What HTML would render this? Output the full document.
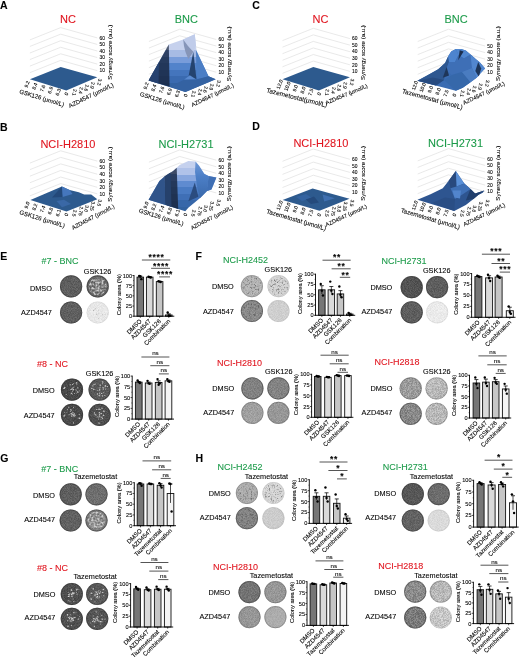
<!DOCTYPE html>
<html><head><meta charset="utf-8"><title>Figure</title>
<style>html,body{margin:0;padding:0;background:#fff;}svg{display:block;}text{stroke:currentColor;stroke-width:0.09px;paint-order:stroke;}</style></head>
<body><svg width="520" height="660" viewBox="0 0 520 660" font-family='"Liberation Sans", sans-serif'>
<defs><linearGradient id="gfront" x1="0" y1="0" x2="0" y2="1"><stop offset="0" stop-color="#c6d2ee"/><stop offset="0.15" stop-color="#a6bbe4"/><stop offset="0.3" stop-color="#6f97d6"/><stop offset="0.5" stop-color="#4a7bc2"/><stop offset="0.75" stop-color="#3a68ab"/><stop offset="1" stop-color="#2d5892"/></linearGradient><linearGradient id="gleft" x1="0" y1="0" x2="0" y2="1"><stop offset="0" stop-color="#56607a"/><stop offset="0.3" stop-color="#2e4468"/><stop offset="1" stop-color="#1b2e4e"/></linearGradient><linearGradient id="gmid" x1="0" y1="0" x2="0" y2="1"><stop offset="0" stop-color="#6f98d8"/><stop offset="1" stop-color="#2c5690"/></linearGradient><filter id="grain" x="0" y="0" width="1" height="1" color-interpolation-filters="sRGB"><feTurbulence type="fractalNoise" baseFrequency="1.3" numOctaves="1" seed="4"/><feColorMatrix type="matrix" values="2.5 0 0 0 -0.75  2.5 0 0 0 -0.75  2.5 0 0 0 -0.75  0 0 0 0 0.11"/><feComposite in2="SourceGraphic" operator="in"/></filter><filter id="lgrain" x="0" y="0" width="1" height="1" color-interpolation-filters="sRGB"><feTurbulence type="fractalNoise" baseFrequency="1.3" numOctaves="1" seed="6"/><feColorMatrix type="matrix" values="2.5 0 0 0 -0.75  2.5 0 0 0 -0.75  2.5 0 0 0 -0.75  0 0 0 0 0.07"/><feComposite in2="SourceGraphic" operator="in"/></filter><filter id="dmottle" x="0" y="0" width="1" height="1" color-interpolation-filters="sRGB"><feTurbulence type="fractalNoise" baseFrequency="0.55" numOctaves="2" seed="13"/><feColorMatrix type="matrix" values="0 0 0 0 0.3  0 0 0 0 0.3  0 0 0 0 0.3  -3.0 0 0 0 1.45"/><feComposite in2="SourceGraphic" operator="in"/></filter><filter id="sgrain" x="0" y="0" width="1" height="1" color-interpolation-filters="sRGB"><feTurbulence type="fractalNoise" baseFrequency="1.6" numOctaves="1" seed="8"/><feColorMatrix type="matrix" values="3 0 0 0 -1  3 0 0 0 -1  3 0 0 0 -1  0 0 0 0 0.17"/><feComposite in2="SourceGraphic" operator="in"/></filter><filter id="mottle" x="0" y="0" width="1" height="1" color-interpolation-filters="sRGB"><feTurbulence type="fractalNoise" baseFrequency="0.5" numOctaves="2" seed="9"/><feColorMatrix type="matrix" values="0 0 0 0 0.8  0 0 0 0 0.8  0 0 0 0 0.8  3.6 0 0 0 -1.45"/><feComposite in2="SourceGraphic" operator="in"/></filter><linearGradient id="gfa" x1="0" y1="0" x2="0" y2="1"><stop offset="0.0" stop-color="#c6d1ed"/><stop offset="0.2756" stop-color="#c6d1ed"/><stop offset="0.2756" stop-color="#a7bbe4"/><stop offset="0.3882" stop-color="#a7bbe4"/><stop offset="0.3882" stop-color="#789cda"/><stop offset="0.5009" stop-color="#789cda"/><stop offset="0.5009" stop-color="#5283cb"/><stop offset="0.6135" stop-color="#5283cb"/><stop offset="0.6135" stop-color="#4475bd"/><stop offset="0.7262" stop-color="#4475bd"/><stop offset="0.7262" stop-color="#3a6ab0"/><stop offset="0.8388" stop-color="#3a6ab0"/><stop offset="0.8388" stop-color="#3262a2"/><stop offset="1.0" stop-color="#3262a2"/></linearGradient><linearGradient id="gla" x1="0" y1="0" x2="0" y2="1"><stop offset="0.0" stop-color="#4c5870"/><stop offset="0.1368" stop-color="#4c5870"/><stop offset="0.1368" stop-color="#2f4265"/><stop offset="0.2901" stop-color="#2f4265"/><stop offset="0.2901" stop-color="#263b5e"/><stop offset="0.4434" stop-color="#263b5e"/><stop offset="0.4434" stop-color="#22375a"/><stop offset="0.5967" stop-color="#22375a"/><stop offset="0.5967" stop-color="#203456"/><stop offset="0.75" stop-color="#203456"/><stop offset="0.75" stop-color="#1e3152"/><stop offset="0.9033" stop-color="#1e3152"/><stop offset="0.9033" stop-color="#1c2f4f"/><stop offset="1.0" stop-color="#1c2f4f"/></linearGradient><linearGradient id="gfb" x1="0" y1="0" x2="0" y2="1"><stop offset="0.0" stop-color="#c5d1ee"/><stop offset="0.1377" stop-color="#c5d1ee"/><stop offset="0.1377" stop-color="#b0c2e9"/><stop offset="0.2675" stop-color="#b0c2e9"/><stop offset="0.2675" stop-color="#87a6de"/><stop offset="0.3972" stop-color="#87a6de"/><stop offset="0.3972" stop-color="#5f8bd0"/><stop offset="0.5269" stop-color="#5f8bd0"/><stop offset="0.5269" stop-color="#4a7bc3"/><stop offset="0.6567" stop-color="#4a7bc3"/><stop offset="0.6567" stop-color="#3f6fb6"/><stop offset="0.7864" stop-color="#3f6fb6"/><stop offset="0.7864" stop-color="#3767a9"/><stop offset="0.9162" stop-color="#3767a9"/><stop offset="0.9162" stop-color="#3262a0"/><stop offset="1.0" stop-color="#3262a0"/></linearGradient><linearGradient id="grb" x1="0" y1="0" x2="0" y2="1"><stop offset="0" stop-color="#6f98d6"/><stop offset="0.4" stop-color="#4c7fc7"/><stop offset="1" stop-color="#3a69ab"/></linearGradient><linearGradient id="glb" x1="0" y1="0" x2="0" y2="1"><stop offset="0.0" stop-color="#3d4a66"/><stop offset="0.1646" stop-color="#3d4a66"/><stop offset="0.1646" stop-color="#2a3d60"/><stop offset="0.322" stop-color="#2a3d60"/><stop offset="0.322" stop-color="#24385a"/><stop offset="0.4794" stop-color="#24385a"/><stop offset="0.4794" stop-color="#213556"/><stop offset="0.6368" stop-color="#213556"/><stop offset="0.6368" stop-color="#1f3252"/><stop offset="0.7942" stop-color="#1f3252"/><stop offset="0.7942" stop-color="#1d3050"/><stop offset="0.9516" stop-color="#1d3050"/><stop offset="0.9516" stop-color="#1b2e4d"/><stop offset="1.0" stop-color="#1b2e4d"/></linearGradient></defs>
<rect width="520" height="660" fill="#fff"/>
<text x="0" y="9.2" font-size="10.5" font-weight="bold">A</text>
<text x="0" y="130.6" font-size="10.5" font-weight="bold">B</text>
<text x="252.3" y="8.9" font-size="10.5" font-weight="bold">C</text>
<text x="252.3" y="130.3" font-size="10.5" font-weight="bold">D</text>
<text x="0.3" y="259.9" font-size="10.5" font-weight="bold">E</text>
<text x="195.5" y="260.1" font-size="10.5" font-weight="bold">F</text>
<text x="0.3" y="461.9" font-size="10.5" font-weight="bold">G</text>
<text x="195.5" y="461.9" font-size="10.5" font-weight="bold">H</text>
<polyline points="29.9,72.65 60.7,60.35 97.3,70.65" fill="none" stroke="#e2e2e2" stroke-width="0.75"/>
<polyline points="29.9,66.1 60.7,53.8 97.3,64.1" fill="none" stroke="#e2e2e2" stroke-width="0.75"/>
<polyline points="29.9,59.55 60.7,47.25 97.3,57.55" fill="none" stroke="#e2e2e2" stroke-width="0.75"/>
<polyline points="29.9,53 60.7,40.7 97.3,51" fill="none" stroke="#e2e2e2" stroke-width="0.75"/>
<polyline points="29.9,46.45 60.7,34.15 97.3,44.45" fill="none" stroke="#e2e2e2" stroke-width="0.75"/>
<polyline points="29.9,39.9 60.7,27.6 97.3,37.9" fill="none" stroke="#e2e2e2" stroke-width="0.75"/>
<text x="99.5" y="72.4" font-size="4.9">10</text>
<text x="99.5" y="65.85" font-size="4.9">20</text>
<text x="99.5" y="59.3" font-size="4.9">30</text>
<text x="99.5" y="52.75" font-size="4.9">40</text>
<text x="99.5" y="46.2" font-size="4.9">50</text>
<text x="99.5" y="39.65" font-size="4.9">60</text>
<text x="112.2" y="52.2" font-size="6.1" text-anchor="middle" transform="rotate(-90 112.2 52.2)">Synergy score (a.u.)</text>
<text x="67.9" y="23.3" font-size="11" text-anchor="middle" fill="#e0141e" color="#e0141e">NC</text>
<polygon points="29.9,79.2 60.7,66.9 97.3,77.2 66.3,90.4" fill="#2d5a8e"/>
<text x="28.6" y="84.9" font-size="4.9" text-anchor="middle" transform="rotate(-70 28.6 84.9)">9.2</text>
<text x="36.4" y="86.85" font-size="4.9" text-anchor="middle" transform="rotate(-70 36.4 86.85)">8.4</text>
<text x="44.2" y="88.8" font-size="4.9" text-anchor="middle" transform="rotate(-70 44.2 88.8)">7.6</text>
<text x="52" y="90.75" font-size="4.9" text-anchor="middle" transform="rotate(-70 52 90.75)">6.9</text>
<text x="59.8" y="92.7" font-size="4.9" text-anchor="middle" transform="rotate(-70 59.8 92.7)">6.3</text>
<text x="68.1" y="94.4" font-size="4.9" text-anchor="middle" transform="rotate(-70 68.1 94.4)">0</text>
<text x="72.9" y="92.1" font-size="4.8" text-anchor="middle" transform="rotate(100 72.9 92.1)">2.1</text>
<text x="79.3" y="90.1" font-size="4.8" text-anchor="middle" transform="rotate(100 79.3 90.1)">2.4</text>
<text x="84.9" y="87.6" font-size="4.8" text-anchor="middle" transform="rotate(100 84.9 87.6)">2.6</text>
<text x="90.9" y="85.1" font-size="4.8" text-anchor="middle" transform="rotate(100 90.9 85.1)">2.9</text>
<text x="97.8" y="81.8" font-size="4.8" text-anchor="middle" transform="rotate(100 97.8 81.8)">3.2</text>
<text x="19" y="93.2" font-size="6" transform="rotate(17 19 93.2)">GSK126 (μmol/L)</text>
<text x="69.8" y="108" font-size="6" transform="rotate(-26 69.8 108)">AZD4547 (μmol/L)</text>
<polyline points="148.9,74.25 179.7,61.95 216.3,72.25" fill="none" stroke="#e2e2e2" stroke-width="0.75"/>
<polyline points="148.9,67.7 179.7,55.4 216.3,65.7" fill="none" stroke="#e2e2e2" stroke-width="0.75"/>
<polyline points="148.9,61.15 179.7,48.85 216.3,59.15" fill="none" stroke="#e2e2e2" stroke-width="0.75"/>
<polyline points="148.9,54.6 179.7,42.3 216.3,52.6" fill="none" stroke="#e2e2e2" stroke-width="0.75"/>
<polyline points="148.9,48.05 179.7,35.75 216.3,46.05" fill="none" stroke="#e2e2e2" stroke-width="0.75"/>
<polyline points="148.9,41.5 179.7,29.2 216.3,39.5" fill="none" stroke="#e2e2e2" stroke-width="0.75"/>
<text x="218.5" y="74" font-size="4.9">10</text>
<text x="218.5" y="67.45" font-size="4.9">20</text>
<text x="218.5" y="60.9" font-size="4.9">30</text>
<text x="218.5" y="54.35" font-size="4.9">40</text>
<text x="218.5" y="47.8" font-size="4.9">50</text>
<text x="218.5" y="41.25" font-size="4.9">60</text>
<text x="231.2" y="53.8" font-size="6.1" text-anchor="middle" transform="rotate(-90 231.2 53.8)">Synergy score (a.u.)</text>
<text x="186.3" y="23.3" font-size="11" text-anchor="middle" fill="#1a9a48" color="#1a9a48">BNC</text>
<polygon points="148.6,80.5 168.8,44.4 183.2,39.4 194.8,34.3 196.2,50.2 208.5,76.2 215.7,79.2 185.4,92" fill="url(#gfa)"/>
<polygon points="148.6,80.5 168.8,44.4 169.6,86.8" fill="url(#gla)"/>
<polygon points="148.6,80.5 159,62 158.5,83.6" fill="#284677" opacity="0.8"/>
<polygon points="183.2,39.4 194.8,34.3 196,45.5 193.3,51.8 188,46" fill="#c0ccea"/>
<polygon points="183.2,39.4 188,46 193.3,51.8 190.5,56 188.3,59 185.5,52 184,46" fill="#8695b8"/>
<polygon points="196,45.5 196.2,50.2 208.5,76.2 201,78.5 196.4,79" fill="#4b7ec5"/>
<polygon points="188.3,77.6 193.3,51.8 196.4,79" fill="#24436f"/>
<polygon points="184,79.8 189.8,75.2 196.4,79.6" fill="#5a8ad0"/>
<polygon points="169.6,86.8 184,79.8 196.4,79.6 208.5,76.2 215.7,79.2 185.4,92" fill="#3462a2"/>
<text x="147.6" y="86.5" font-size="4.9" text-anchor="middle" transform="rotate(-70 147.6 86.5)">9.2</text>
<text x="155.4" y="88.45" font-size="4.9" text-anchor="middle" transform="rotate(-70 155.4 88.45)">8.4</text>
<text x="163.2" y="90.4" font-size="4.9" text-anchor="middle" transform="rotate(-70 163.2 90.4)">7.6</text>
<text x="171" y="92.35" font-size="4.9" text-anchor="middle" transform="rotate(-70 171 92.35)">6.9</text>
<text x="178.8" y="94.3" font-size="4.9" text-anchor="middle" transform="rotate(-70 178.8 94.3)">6.3</text>
<text x="187.1" y="96" font-size="4.9" text-anchor="middle" transform="rotate(-70 187.1 96)">0</text>
<text x="191.9" y="93.7" font-size="4.8" text-anchor="middle" transform="rotate(100 191.9 93.7)">2.1</text>
<text x="198.3" y="91.7" font-size="4.8" text-anchor="middle" transform="rotate(100 198.3 91.7)">2.4</text>
<text x="203.9" y="89.2" font-size="4.8" text-anchor="middle" transform="rotate(100 203.9 89.2)">2.6</text>
<text x="209.9" y="86.7" font-size="4.8" text-anchor="middle" transform="rotate(100 209.9 86.7)">2.9</text>
<text x="216.8" y="83.4" font-size="4.8" text-anchor="middle" transform="rotate(100 216.8 83.4)">3.2</text>
<text x="139.5" y="95.8" font-size="6" transform="rotate(17 139.5 95.8)">GSK126 (μmol/L)</text>
<text x="192.6" y="107" font-size="5.65" transform="rotate(-26 192.6 107)">AZD4547 (μmol/L)</text>
<polyline points="29.9,195.85 60.7,183.55 97.3,193.85" fill="none" stroke="#e2e2e2" stroke-width="0.75"/>
<polyline points="29.9,189.3 60.7,177 97.3,187.3" fill="none" stroke="#e2e2e2" stroke-width="0.75"/>
<polyline points="29.9,182.75 60.7,170.45 97.3,180.75" fill="none" stroke="#e2e2e2" stroke-width="0.75"/>
<polyline points="29.9,176.2 60.7,163.9 97.3,174.2" fill="none" stroke="#e2e2e2" stroke-width="0.75"/>
<polyline points="29.9,169.65 60.7,157.35 97.3,167.65" fill="none" stroke="#e2e2e2" stroke-width="0.75"/>
<polyline points="29.9,163.1 60.7,150.8 97.3,161.1" fill="none" stroke="#e2e2e2" stroke-width="0.75"/>
<text x="99.5" y="195.6" font-size="4.9">10</text>
<text x="99.5" y="189.05" font-size="4.9">20</text>
<text x="99.5" y="182.5" font-size="4.9">30</text>
<text x="99.5" y="175.95" font-size="4.9">40</text>
<text x="99.5" y="169.4" font-size="4.9">50</text>
<text x="99.5" y="162.85" font-size="4.9">60</text>
<text x="112.2" y="174.2" font-size="6.1" text-anchor="middle" transform="rotate(-90 112.2 174.2)">Synergy score (a.u.)</text>
<text x="67.9" y="147.8" font-size="11" text-anchor="middle" fill="#e0141e" color="#e0141e">NCI-H2810</text>
<polygon points="30.4,200 61.9,186.5 69.6,190 78.8,192.3 84.2,194.6 91.2,194.6 97.3,199.2 66.5,211.5" fill="#2d5a8e"/>
<polygon points="61.9,186.5 62.7,196.9 52,197.5" fill="#23497a"/>
<polygon points="61.9,186.5 69.6,190 72.5,194 62.7,196.9" fill="#4577bd"/>
<polygon points="56.5,201 64,199.8 71,204 62,207.2" fill="#3a68a6"/>
<text x="28.6" y="205.7" font-size="4.9" text-anchor="middle" transform="rotate(-70 28.6 205.7)">9.0</text>
<text x="36.4" y="207.65" font-size="4.9" text-anchor="middle" transform="rotate(-70 36.4 207.65)">8.2</text>
<text x="44.2" y="209.6" font-size="4.9" text-anchor="middle" transform="rotate(-70 44.2 209.6)">7.4</text>
<text x="52" y="211.55" font-size="4.9" text-anchor="middle" transform="rotate(-70 52 211.55)">6.8</text>
<text x="59.8" y="213.5" font-size="4.9" text-anchor="middle" transform="rotate(-70 59.8 213.5)">6.1</text>
<text x="68.1" y="215.2" font-size="4.9" text-anchor="middle" transform="rotate(-70 68.1 215.2)">0</text>
<text x="72.9" y="212.9" font-size="4.8" text-anchor="middle" transform="rotate(100 72.9 212.9)">2.5</text>
<text x="79.3" y="210.9" font-size="4.8" text-anchor="middle" transform="rotate(100 79.3 210.9)">2.75</text>
<text x="84.9" y="208.4" font-size="4.8" text-anchor="middle" transform="rotate(100 84.9 208.4)">3.0</text>
<text x="90.9" y="205.9" font-size="4.8" text-anchor="middle" transform="rotate(100 90.9 205.9)">3.25</text>
<text x="97.8" y="202.6" font-size="4.8" text-anchor="middle" transform="rotate(100 97.8 202.6)">3.5</text>
<text x="19" y="214" font-size="6.1" transform="rotate(17 19 214)">GSK126 (μmol/L)</text>
<text x="73" y="229.9" font-size="5.8" transform="rotate(-28 73 229.9)">AZD4547 (μmol/L)</text>
<polyline points="148.9,194.95 179.7,182.65 216.3,192.95" fill="none" stroke="#e2e2e2" stroke-width="0.75"/>
<polyline points="148.9,188.4 179.7,176.1 216.3,186.4" fill="none" stroke="#e2e2e2" stroke-width="0.75"/>
<polyline points="148.9,181.85 179.7,169.55 216.3,179.85" fill="none" stroke="#e2e2e2" stroke-width="0.75"/>
<polyline points="148.9,175.3 179.7,163 216.3,173.3" fill="none" stroke="#e2e2e2" stroke-width="0.75"/>
<polyline points="148.9,168.75 179.7,156.45 216.3,166.75" fill="none" stroke="#e2e2e2" stroke-width="0.75"/>
<polyline points="148.9,162.2 179.7,149.9 216.3,160.2" fill="none" stroke="#e2e2e2" stroke-width="0.75"/>
<text x="218.5" y="194.7" font-size="4.9">10</text>
<text x="218.5" y="188.15" font-size="4.9">20</text>
<text x="218.5" y="181.6" font-size="4.9">30</text>
<text x="218.5" y="175.05" font-size="4.9">40</text>
<text x="218.5" y="168.5" font-size="4.9">50</text>
<text x="218.5" y="161.95" font-size="4.9">60</text>
<text x="231.2" y="173.75" font-size="6.1" text-anchor="middle" transform="rotate(-90 231.2 173.75)">Synergy score (a.u.)</text>
<text x="186" y="147.8" font-size="11" text-anchor="middle" fill="#1a9a48" color="#1a9a48">NCI-H2731</text>
<polygon points="148.6,199.7 159.4,181 164.5,176.6 173.1,170.9 176.7,167.7 179.6,165.1 188.3,161.1 195.5,161.5 199.1,165.8 204.2,173.8 208.5,175.9 216.4,177.4 211.4,189.6 207,191.1 199.8,198.3 188.3,207.7 185.3,211.2" fill="url(#gfb)"/>
<polygon points="195.5,161.5 199.1,165.8 204.2,173.8 208.5,175.9 207,191.1 199.8,198.3 197,186 195,172" fill="url(#grb)"/>
<polygon points="208.5,175.9 216.4,177.4 211.4,189.6 207,191.1" fill="#3f6fb4"/>
<polygon points="164.5,176.6 173.1,170.9 176.7,167.7 178.2,209 165.5,204.8" fill="url(#glb)"/>
<polygon points="148.6,199.7 159.4,181 164.5,176.6 165.5,204.8" fill="#30548a"/>
<polygon points="164.5,176.6 170.5,172.6 171.5,207 165.5,204.8" fill="#26416b"/>
<polygon points="188.3,201.2 194.8,182.4 198.4,196.8" fill="#2b4c7f"/>
<text x="147.6" y="205.7" font-size="4.9" text-anchor="middle" transform="rotate(-70 147.6 205.7)">9.0</text>
<text x="155.4" y="207.65" font-size="4.9" text-anchor="middle" transform="rotate(-70 155.4 207.65)">8.2</text>
<text x="163.2" y="209.6" font-size="4.9" text-anchor="middle" transform="rotate(-70 163.2 209.6)">7.4</text>
<text x="171" y="211.55" font-size="4.9" text-anchor="middle" transform="rotate(-70 171 211.55)">6.8</text>
<text x="178.8" y="213.5" font-size="4.9" text-anchor="middle" transform="rotate(-70 178.8 213.5)">6.1</text>
<text x="187.1" y="215.2" font-size="4.9" text-anchor="middle" transform="rotate(-70 187.1 215.2)">0</text>
<text x="191.9" y="212.9" font-size="4.8" text-anchor="middle" transform="rotate(100 191.9 212.9)">2.5</text>
<text x="198.3" y="210.9" font-size="4.8" text-anchor="middle" transform="rotate(100 198.3 210.9)">2.75</text>
<text x="203.9" y="208.4" font-size="4.8" text-anchor="middle" transform="rotate(100 203.9 208.4)">3.0</text>
<text x="209.9" y="205.9" font-size="4.8" text-anchor="middle" transform="rotate(100 209.9 205.9)">3.25</text>
<text x="216.8" y="202.6" font-size="4.8" text-anchor="middle" transform="rotate(100 216.8 202.6)">3.5</text>
<text x="138.5" y="212.3" font-size="6" transform="rotate(17 138.5 212.3)">GSK126 (μmol/L)</text>
<text x="191.9" y="229.9" font-size="5.7" transform="rotate(-27 191.9 229.9)">AZD4547 (μmol/L)</text>
<polyline points="282.5,73.35 313.3,61.05 349.9,71.35" fill="none" stroke="#e2e2e2" stroke-width="0.75"/>
<polyline points="282.5,66.8 313.3,54.5 349.9,64.8" fill="none" stroke="#e2e2e2" stroke-width="0.75"/>
<polyline points="282.5,60.25 313.3,47.95 349.9,58.25" fill="none" stroke="#e2e2e2" stroke-width="0.75"/>
<polyline points="282.5,53.7 313.3,41.4 349.9,51.7" fill="none" stroke="#e2e2e2" stroke-width="0.75"/>
<polyline points="282.5,47.15 313.3,34.85 349.9,45.15" fill="none" stroke="#e2e2e2" stroke-width="0.75"/>
<polyline points="282.5,40.6 313.3,28.3 349.9,38.6" fill="none" stroke="#e2e2e2" stroke-width="0.75"/>
<text x="352.1" y="73.1" font-size="4.9">10</text>
<text x="352.1" y="66.55" font-size="4.9">20</text>
<text x="352.1" y="60" font-size="4.9">30</text>
<text x="352.1" y="53.45" font-size="4.9">40</text>
<text x="352.1" y="46.9" font-size="4.9">50</text>
<text x="352.1" y="40.35" font-size="4.9">60</text>
<text x="364.8" y="52.55" font-size="6.1" text-anchor="middle" transform="rotate(-90 364.8 52.55)">Synergy score (a.u.)</text>
<text x="320.5" y="23.3" font-size="11" text-anchor="middle" fill="#e0141e" color="#e0141e">NC</text>
<polygon points="282.5,79.2 313.3,66.9 349.9,77.2 318.9,90.4" fill="#2d5a8e"/>
<text x="281.2" y="84.9" font-size="4.9" text-anchor="middle" transform="rotate(-70 281.2 84.9)">12.0</text>
<text x="289" y="86.85" font-size="4.9" text-anchor="middle" transform="rotate(-70 289 86.85)">10.0</text>
<text x="296.8" y="88.8" font-size="4.9" text-anchor="middle" transform="rotate(-70 296.8 88.8)">9.0</text>
<text x="304.6" y="90.75" font-size="4.9" text-anchor="middle" transform="rotate(-70 304.6 90.75)">8.0</text>
<text x="312.4" y="92.7" font-size="4.9" text-anchor="middle" transform="rotate(-70 312.4 92.7)">7.5</text>
<text x="320.7" y="94.4" font-size="4.9" text-anchor="middle" transform="rotate(-70 320.7 94.4)">0</text>
<text x="325.5" y="92.1" font-size="4.8" text-anchor="middle" transform="rotate(100 325.5 92.1)">2.1</text>
<text x="331.9" y="90.1" font-size="4.8" text-anchor="middle" transform="rotate(100 331.9 90.1)">2.4</text>
<text x="337.5" y="87.6" font-size="4.8" text-anchor="middle" transform="rotate(100 337.5 87.6)">2.6</text>
<text x="343.5" y="85.1" font-size="4.8" text-anchor="middle" transform="rotate(100 343.5 85.1)">2.9</text>
<text x="350.4" y="81.8" font-size="4.8" text-anchor="middle" transform="rotate(100 350.4 81.8)">3.2</text>
<text x="265.9" y="92.2" font-size="6.5" transform="rotate(14 265.9 92.2)">Tazemetostat(μmol/L)</text>
<text x="326.6" y="104.8" font-size="5.5" transform="rotate(-23 326.6 104.8)">AZD4547 (μmol/L)</text>
<polyline points="417.7,74.25 448.5,61.95 485.1,72.25" fill="none" stroke="#e2e2e2" stroke-width="0.75"/>
<polyline points="417.7,67.7 448.5,55.4 485.1,65.7" fill="none" stroke="#e2e2e2" stroke-width="0.75"/>
<polyline points="417.7,61.15 448.5,48.85 485.1,59.15" fill="none" stroke="#e2e2e2" stroke-width="0.75"/>
<polyline points="417.7,54.6 448.5,42.3 485.1,52.6" fill="none" stroke="#e2e2e2" stroke-width="0.75"/>
<polyline points="417.7,48.05 448.5,35.75 485.1,46.05" fill="none" stroke="#e2e2e2" stroke-width="0.75"/>
<polyline points="417.7,41.5 448.5,29.2 485.1,39.5" fill="none" stroke="#e2e2e2" stroke-width="0.75"/>
<text x="487.3" y="74" font-size="4.9">10</text>
<text x="487.3" y="67.45" font-size="4.9">20</text>
<text x="487.3" y="60.9" font-size="4.9">30</text>
<text x="487.3" y="54.35" font-size="4.9">40</text>
<text x="487.3" y="47.8" font-size="4.9">50</text>
<text x="500" y="53.6" font-size="6.1" text-anchor="middle" transform="rotate(-90 500 53.6)">Synergy score (a.u.)</text>
<text x="456" y="23.1" font-size="11" text-anchor="middle" fill="#1a9a48" color="#1a9a48">BNC</text>
<polygon points="417.4,80.8 428.9,74.6 438.2,69.2 445.1,63.1 448.2,56.2 451.2,51.5 455.8,48.9 461.2,48.9 465.8,50.5 470.5,54.6 475.1,58.5 479.7,62.3 485.1,68.5 482.8,70.8 476.6,77.7 470.5,82.3 462.8,87.7 455.8,90.8" fill="#3a6cb2"/>
<polygon points="417.4,80.8 428.9,74.6 438.2,69.2 445.1,63.1 448.2,56.2 449,62 446,70 444,80 436,85.6" fill="#2e5790"/>
<polygon points="417.4,80.8 433,77.5 444,80 436,85.6" fill="#274b80"/>
<polygon points="448.2,56.2 451.2,51.5 455.8,48.9 458.5,55 455,62 449,62" fill="#4d84cf"/>
<polygon points="455.8,48.9 461.2,48.9 465.8,50.5 470.5,54.6 464,58.5 458.5,55" fill="#5087d0"/>
<polygon points="449,62 455,62 458.5,55 464,58.5 470.5,54.6 475.1,58.5 472,68 462,72 452,75 446,70" fill="#3e6fb6"/>
<polygon points="470.5,54.6 475.1,58.5 479.7,62.3 485.1,68.5 482.8,70.8 476.6,77.7 472,68" fill="#5287cf"/>
<polygon points="458.2,60.2 459.7,50.2 463.6,51.6" fill="#1b2f50"/>
<polygon points="475.3,71 478.2,62 481.2,68.5 478.8,76.5" fill="#1d3558"/>
<polygon points="442.8,77.7 446.6,66.9 449,75.4" fill="#1e3659"/>
<polygon points="444,80 452,75 462,72 470.5,82.3 462.8,87.7 455.8,90.8" fill="#3668aa"/>
<polygon points="462,72 472,68 476.6,77.7 470.5,82.3" fill="#4a7cc0"/>
<text x="416.4" y="86.1" font-size="4.9" text-anchor="middle" transform="rotate(-70 416.4 86.1)">12.0</text>
<text x="424.2" y="88.05" font-size="4.9" text-anchor="middle" transform="rotate(-70 424.2 88.05)">10.0</text>
<text x="432" y="90" font-size="4.9" text-anchor="middle" transform="rotate(-70 432 90)">9.0</text>
<text x="439.8" y="91.95" font-size="4.9" text-anchor="middle" transform="rotate(-70 439.8 91.95)">8.0</text>
<text x="447.6" y="93.9" font-size="4.9" text-anchor="middle" transform="rotate(-70 447.6 93.9)">7.5</text>
<text x="455.9" y="95.6" font-size="4.9" text-anchor="middle" transform="rotate(-70 455.9 95.6)">0</text>
<text x="460.7" y="93.3" font-size="4.8" text-anchor="middle" transform="rotate(100 460.7 93.3)">2.1</text>
<text x="467.1" y="91.3" font-size="4.8" text-anchor="middle" transform="rotate(100 467.1 91.3)">2.4</text>
<text x="472.7" y="88.8" font-size="4.8" text-anchor="middle" transform="rotate(100 472.7 88.8)">2.6</text>
<text x="478.7" y="86.3" font-size="4.8" text-anchor="middle" transform="rotate(100 478.7 86.3)">2.9</text>
<text x="485.6" y="83" font-size="4.8" text-anchor="middle" transform="rotate(100 485.6 83)">3.2</text>
<text x="401.8" y="92.9" font-size="6.3" transform="rotate(15.5 401.8 92.9)">Tazemetostat (μmol/L)</text>
<text x="464.1" y="105" font-size="5.6" transform="rotate(-26 464.1 105)">AZD4547 (μmol/L)</text>
<polyline points="282.5,194.05 313.3,181.75 349.9,192.05" fill="none" stroke="#e2e2e2" stroke-width="0.75"/>
<polyline points="282.5,187.5 313.3,175.2 349.9,185.5" fill="none" stroke="#e2e2e2" stroke-width="0.75"/>
<polyline points="282.5,180.95 313.3,168.65 349.9,178.95" fill="none" stroke="#e2e2e2" stroke-width="0.75"/>
<polyline points="282.5,174.4 313.3,162.1 349.9,172.4" fill="none" stroke="#e2e2e2" stroke-width="0.75"/>
<polyline points="282.5,167.85 313.3,155.55 349.9,165.85" fill="none" stroke="#e2e2e2" stroke-width="0.75"/>
<polyline points="282.5,161.3 313.3,149 349.9,159.3" fill="none" stroke="#e2e2e2" stroke-width="0.75"/>
<text x="352.1" y="193.8" font-size="4.9">10</text>
<text x="352.1" y="187.25" font-size="4.9">20</text>
<text x="352.1" y="180.7" font-size="4.9">30</text>
<text x="352.1" y="174.15" font-size="4.9">40</text>
<text x="352.1" y="167.6" font-size="4.9">50</text>
<text x="352.1" y="161.05" font-size="4.9">60</text>
<text x="364.8" y="173.4" font-size="6.1" text-anchor="middle" transform="rotate(-90 364.8 173.4)">Synergy score (a.u.)</text>
<text x="320.9" y="147.3" font-size="11" text-anchor="middle" fill="#e0141e" color="#e0141e">NCI-H2810</text>
<polygon points="282.6,200 312.6,188.5 349.5,198.8 319.5,210.8" fill="#2d5a8e"/>
<polygon points="296,197 306,194 312,198 302,201" fill="#3463a0"/>
<polygon points="305.7,199.5 314,196.5 319,202.5 311,204" fill="#244a7c"/>
<polygon points="322.6,194.6 334.9,198.2 324.2,201.5" fill="#3f6fb0"/>
<text x="281.2" y="205.9" font-size="4.9" text-anchor="middle" transform="rotate(-70 281.2 205.9)">12.0</text>
<text x="289" y="207.85" font-size="4.9" text-anchor="middle" transform="rotate(-70 289 207.85)">10.0</text>
<text x="296.8" y="209.8" font-size="4.9" text-anchor="middle" transform="rotate(-70 296.8 209.8)">9.0</text>
<text x="304.6" y="211.75" font-size="4.9" text-anchor="middle" transform="rotate(-70 304.6 211.75)">8.0</text>
<text x="312.4" y="213.7" font-size="4.9" text-anchor="middle" transform="rotate(-70 312.4 213.7)">7.5</text>
<text x="320.7" y="215.4" font-size="4.9" text-anchor="middle" transform="rotate(-70 320.7 215.4)">0</text>
<text x="325.5" y="213.1" font-size="4.8" text-anchor="middle" transform="rotate(100 325.5 213.1)">2.5</text>
<text x="331.9" y="211.1" font-size="4.8" text-anchor="middle" transform="rotate(100 331.9 211.1)">2.75</text>
<text x="337.5" y="208.6" font-size="4.8" text-anchor="middle" transform="rotate(100 337.5 208.6)">3.0</text>
<text x="343.5" y="206.1" font-size="4.8" text-anchor="middle" transform="rotate(100 343.5 206.1)">3.25</text>
<text x="350.4" y="202.8" font-size="4.8" text-anchor="middle" transform="rotate(100 350.4 202.8)">3.5</text>
<text x="265.9" y="213.2" font-size="6.25" transform="rotate(16.2 265.9 213.2)">Tazemetostat (μmol/L)</text>
<text x="326.6" y="226.8" font-size="5.5" transform="rotate(-25 326.6 226.8)">AZD4547 (μmol/L)</text>
<polyline points="417.7,193.65 448.5,181.35 485.1,191.65" fill="none" stroke="#e2e2e2" stroke-width="0.75"/>
<polyline points="417.7,187.1 448.5,174.8 485.1,185.1" fill="none" stroke="#e2e2e2" stroke-width="0.75"/>
<polyline points="417.7,180.55 448.5,168.25 485.1,178.55" fill="none" stroke="#e2e2e2" stroke-width="0.75"/>
<polyline points="417.7,174 448.5,161.7 485.1,172" fill="none" stroke="#e2e2e2" stroke-width="0.75"/>
<polyline points="417.7,167.45 448.5,155.15 485.1,165.45" fill="none" stroke="#e2e2e2" stroke-width="0.75"/>
<polyline points="417.7,160.9 448.5,148.6 485.1,158.9" fill="none" stroke="#e2e2e2" stroke-width="0.75"/>
<text x="487.3" y="193.4" font-size="4.9">10</text>
<text x="487.3" y="186.85" font-size="4.9">20</text>
<text x="487.3" y="180.3" font-size="4.9">30</text>
<text x="487.3" y="173.75" font-size="4.9">40</text>
<text x="487.3" y="167.2" font-size="4.9">50</text>
<text x="487.3" y="160.65" font-size="4.9">60</text>
<text x="500" y="173.2" font-size="6.1" text-anchor="middle" transform="rotate(-90 500 173.2)">Synergy score (a.u.)</text>
<text x="455.6" y="147.3" font-size="11" text-anchor="middle" fill="#1a9a48" color="#1a9a48">NCI-H2731</text>
<polygon points="417.4,199.7 430.5,194.3 442.8,188.2 448.9,180.5 455.8,170.9 461.2,178.9 464.3,183.5 470.5,188.9 475.1,193.5 484.3,190.5 482.8,192.8 478.2,195.1 473.5,198.9 465.8,205.1 454.3,210.9" fill="#2e5590"/>
<polygon points="448.9,180.5 455.8,170.9 456.6,186.6 450.5,188.2" fill="#28497e"/>
<polygon points="455.8,170.9 461.2,178.9 464.3,183.5 456.6,186.6" fill="#5a90d8"/>
<polygon points="450.5,188.2 456.6,186.6 464.3,183.5 470.5,188.9 462.8,194.3 455,199" fill="#3f70b6"/>
<polygon points="452.5,190.5 461,190.5 460,198.5 454.5,197.5" fill="#5285cd"/>
<polygon points="470.5,188.9 475.1,193.5 484.3,190.5 478.2,195.1 473.5,198.9 465.8,200.5" fill="#213f6d"/>
<polygon points="432,203 445,197.5 455,199 454.3,210.9" fill="#2a4e85"/>
<text x="416.4" y="205.9" font-size="4.9" text-anchor="middle" transform="rotate(-70 416.4 205.9)">12.0</text>
<text x="424.2" y="207.85" font-size="4.9" text-anchor="middle" transform="rotate(-70 424.2 207.85)">10.0</text>
<text x="432" y="209.8" font-size="4.9" text-anchor="middle" transform="rotate(-70 432 209.8)">9.0</text>
<text x="439.8" y="211.75" font-size="4.9" text-anchor="middle" transform="rotate(-70 439.8 211.75)">8.0</text>
<text x="447.6" y="213.7" font-size="4.9" text-anchor="middle" transform="rotate(-70 447.6 213.7)">7.5</text>
<text x="455.9" y="215.4" font-size="4.9" text-anchor="middle" transform="rotate(-70 455.9 215.4)">0</text>
<text x="460.7" y="213.1" font-size="4.8" text-anchor="middle" transform="rotate(100 460.7 213.1)">2.5</text>
<text x="467.1" y="211.1" font-size="4.8" text-anchor="middle" transform="rotate(100 467.1 211.1)">2.75</text>
<text x="472.7" y="208.6" font-size="4.8" text-anchor="middle" transform="rotate(100 472.7 208.6)">3.0</text>
<text x="478.7" y="206.1" font-size="4.8" text-anchor="middle" transform="rotate(100 478.7 206.1)">3.25</text>
<text x="485.6" y="202.8" font-size="4.8" text-anchor="middle" transform="rotate(100 485.6 202.8)">3.5</text>
<text x="400.4" y="212.1" font-size="6.2" transform="rotate(16.3 400.4 212.1)">Tazemetostat (μmol/L)</text>
<text x="464.4" y="226.4" font-size="5.6" transform="rotate(-26 464.4 226.4)">AZD4547 (μmol/L)</text>
<text x="41.5" y="264.2" font-size="9" fill="#1a9a48" color="#1a9a48">#7 - BNC</text>
<text x="83.8" y="273.7" font-size="7.3">GSK126</text>
<text x="51.9" y="290.6" font-size="7.3" text-anchor="end">DMSO</text>
<text x="51.9" y="315.3" font-size="7.3" text-anchor="end">AZD4547</text>
<circle cx="71.1" cy="286.4" r="11.1" fill="#5a5a5a"/>
<circle cx="71.1" cy="286.4" r="11.1" fill="#000" filter="url(#grain)"/>
<circle cx="71.1" cy="286.4" r="10.65" fill="none" stroke="#2a2a2a" stroke-width="0.9" opacity="0.45"/>
<circle cx="97.7" cy="286.4" r="11.1" fill="#606060"/>
<circle cx="97.7" cy="286.4" r="11.1" fill="#000" filter="url(#grain)"/>
<circle cx="97.7" cy="286.4" r="8.9" fill="#000" filter="url(#mottle)"/>
<circle cx="97.7" cy="286.4" r="10.65" fill="none" stroke="#2a2a2a" stroke-width="0.9" opacity="0.45"/>
<circle cx="71.1" cy="312.5" r="11.1" fill="#5c5c5c"/>
<circle cx="71.1" cy="312.5" r="11.1" fill="#000" filter="url(#grain)"/>
<circle cx="71.1" cy="312.5" r="10.65" fill="none" stroke="#2a2a2a" stroke-width="0.9" opacity="0.45"/>
<circle cx="97.7" cy="312.5" r="11.1" fill="#f0f0f0"/>
<circle cx="97.7" cy="312.5" r="11.1" fill="#000" filter="url(#lgrain)"/>
<circle cx="96.68" cy="314.55" r="0.41" fill="#555" opacity="0.6"/>
<circle cx="102.69" cy="314.94" r="0.34" fill="#555" opacity="0.6"/>
<circle cx="102.7" cy="314.41" r="0.26" fill="#555" opacity="0.6"/>
<circle cx="96.48" cy="313.04" r="0.27" fill="#555" opacity="0.6"/>
<circle cx="91" cy="315.94" r="0.28" fill="#555" opacity="0.6"/>
<circle cx="98.74" cy="318.62" r="0.49" fill="#555" opacity="0.6"/>
<circle cx="93.72" cy="310.4" r="0.49" fill="#555" opacity="0.6"/>
<circle cx="105.1" cy="314.73" r="0.32" fill="#555" opacity="0.6"/>
<circle cx="98.89" cy="314.01" r="0.33" fill="#555" opacity="0.6"/>
<circle cx="98.75" cy="310.12" r="0.4" fill="#555" opacity="0.6"/>
<circle cx="94.93" cy="309.2" r="0.39" fill="#555" opacity="0.6"/>
<circle cx="98.8" cy="312.96" r="0.3" fill="#555" opacity="0.6"/>
<circle cx="95.69" cy="308.2" r="0.33" fill="#555" opacity="0.6"/>
<circle cx="93.46" cy="309.97" r="0.32" fill="#555" opacity="0.6"/>
<circle cx="97.7" cy="312.5" r="10.65" fill="none" stroke="#2a2a2a" stroke-width="0.9" opacity="0.08"/>
<rect x="137" y="277.13" width="6.6" height="39.07" fill="#767676" stroke="#111" stroke-width="0.9"/>
<rect x="146.4" y="277.13" width="6.6" height="39.07" fill="#dadada" stroke="#111" stroke-width="0.9"/>
<rect x="156.3" y="281.61" width="6.6" height="34.59" fill="#c6c6c6" stroke="#111" stroke-width="0.9"/>
<rect x="165.5" y="314.98" width="6.6" height="1.22" fill="#f4f4f4" stroke="#111" stroke-width="0.9"/>
<line x1="140.3" y1="276.11" x2="140.3" y2="278.15" stroke="#000" stroke-width="0.7"/>
<line x1="138.3" y1="276.11" x2="142.3" y2="276.11" stroke="#000" stroke-width="0.75"/>
<circle cx="139.2" cy="275.91" r="1.2" fill="#000"/>
<circle cx="140.3" cy="276.31" r="1.2" fill="#000"/>
<circle cx="141.4" cy="279.16" r="1.2" fill="#000"/>
<line x1="149.7" y1="276.64" x2="149.7" y2="277.62" stroke="#000" stroke-width="0.7"/>
<line x1="147.7" y1="276.64" x2="151.7" y2="276.64" stroke="#000" stroke-width="0.75"/>
<circle cx="148.6" cy="276.72" r="1.2" fill="#000"/>
<circle cx="149.7" cy="277.13" r="1.2" fill="#000"/>
<circle cx="150.8" cy="277.54" r="1.2" fill="#000"/>
<line x1="159.6" y1="281.28" x2="159.6" y2="281.93" stroke="#000" stroke-width="0.7"/>
<line x1="157.6" y1="281.28" x2="161.6" y2="281.28" stroke="#000" stroke-width="0.75"/>
<circle cx="158.5" cy="281.2" r="1.2" fill="#000"/>
<circle cx="159.6" cy="281.61" r="1.2" fill="#000"/>
<circle cx="160.7" cy="282.01" r="1.2" fill="#000"/>
<line x1="168.8" y1="313.84" x2="168.8" y2="316.12" stroke="#000" stroke-width="0.7"/>
<line x1="166.8" y1="313.84" x2="170.8" y2="313.84" stroke="#000" stroke-width="0.75"/>
<circle cx="167.7" cy="312.54" r="1.2" fill="#000"/>
<circle cx="168.8" cy="315.79" r="1.2" fill="#000"/>
<circle cx="169.9" cy="315.79" r="1.2" fill="#000"/>
<line x1="134" y1="275" x2="134" y2="316.6" stroke="#000" stroke-width="0.9"/>
<line x1="133.6" y1="316.2" x2="174.3" y2="316.2" stroke="#000" stroke-width="0.9"/>
<line x1="132.4" y1="316.2" x2="134" y2="316.2" stroke="#000" stroke-width="0.7"/>
<text x="132" y="318.2" font-size="5.6" text-anchor="end">0</text>
<line x1="132.4" y1="306.02" x2="134" y2="306.02" stroke="#000" stroke-width="0.7"/>
<text x="132" y="308.02" font-size="5.6" text-anchor="end">25</text>
<line x1="132.4" y1="295.85" x2="134" y2="295.85" stroke="#000" stroke-width="0.7"/>
<text x="132" y="297.85" font-size="5.6" text-anchor="end">50</text>
<line x1="132.4" y1="285.68" x2="134" y2="285.68" stroke="#000" stroke-width="0.7"/>
<text x="132" y="287.68" font-size="5.6" text-anchor="end">75</text>
<line x1="132.4" y1="275.5" x2="134" y2="275.5" stroke="#000" stroke-width="0.7"/>
<text x="132" y="277.5" font-size="5.6" text-anchor="end">100</text>
<line x1="133.1" y1="311.11" x2="134" y2="311.11" stroke="#000" stroke-width="0.5"/>
<line x1="133.1" y1="300.94" x2="134" y2="300.94" stroke="#000" stroke-width="0.5"/>
<line x1="133.1" y1="290.76" x2="134" y2="290.76" stroke="#000" stroke-width="0.5"/>
<line x1="133.1" y1="280.59" x2="134" y2="280.59" stroke="#000" stroke-width="0.5"/>
<line x1="140.3" y1="316.2" x2="140.3" y2="317.8" stroke="#000" stroke-width="0.7"/>
<line x1="149.7" y1="316.2" x2="149.7" y2="317.8" stroke="#000" stroke-width="0.7"/>
<line x1="159.6" y1="316.2" x2="159.6" y2="317.8" stroke="#000" stroke-width="0.7"/>
<line x1="168.8" y1="316.2" x2="168.8" y2="317.8" stroke="#000" stroke-width="0.7"/>
<text x="120.8" y="294.65" font-size="5.7" text-anchor="middle" transform="rotate(-90 120.8 294.65)">Colony area (%)</text>
<text x="142.1" y="321.6" font-size="6.1" text-anchor="end" transform="rotate(-45 142.1 321.6)">DMSO</text>
<text x="151.5" y="321.6" font-size="6.1" text-anchor="end" transform="rotate(-45 151.5 321.6)">AZD4547</text>
<text x="161.4" y="321.6" font-size="6.1" text-anchor="end" transform="rotate(-45 161.4 321.6)">GSK126</text>
<text x="170.6" y="321.6" font-size="6.1" text-anchor="end" transform="rotate(-45 170.6 321.6)">Combination</text>
<line x1="141.9" y1="260" x2="170.3" y2="260" stroke="#555" stroke-width="1"/>
<text x="156.5" y="260.2" font-size="8.5" text-anchor="middle" font-weight="bold" letter-spacing="0.7">****</text>
<line x1="151.1" y1="268.3" x2="170" y2="268.3" stroke="#555" stroke-width="1"/>
<text x="160.95" y="268.5" font-size="8.5" text-anchor="middle" font-weight="bold" letter-spacing="0.7">****</text>
<line x1="159.2" y1="276.9" x2="170" y2="276.9" stroke="#555" stroke-width="1"/>
<text x="165" y="277.1" font-size="8.5" text-anchor="middle" font-weight="bold" letter-spacing="0.7">****</text>
<text x="37" y="367" font-size="9" fill="#e0141e" color="#e0141e">#8 - NC</text>
<text x="85.8" y="376" font-size="7.3">GSK126</text>
<text x="54.6" y="393.3" font-size="7.3" text-anchor="end">DMSO</text>
<text x="54.6" y="417.5" font-size="7.3" text-anchor="end">AZD4547</text>
<circle cx="72" cy="389.7" r="11.1" fill="#424242"/>
<circle cx="72" cy="389.7" r="11.1" fill="#000" filter="url(#grain)"/>
<ellipse cx="73.69" cy="383.78" rx="0.46" ry="0.55" fill="#e8e8e8" opacity="0.9"/>
<ellipse cx="64.56" cy="388.51" rx="0.68" ry="0.45" fill="#e8e8e8" opacity="0.9"/>
<ellipse cx="73.23" cy="389.55" rx="0.54" ry="0.61" fill="#e8e8e8" opacity="0.9"/>
<ellipse cx="74.58" cy="393.34" rx="0.37" ry="0.58" fill="#e8e8e8" opacity="0.9"/>
<ellipse cx="72.47" cy="384.57" rx="0.74" ry="0.46" fill="#e8e8e8" opacity="0.9"/>
<ellipse cx="70.21" cy="384.69" rx="0.61" ry="0.51" fill="#e8e8e8" opacity="0.9"/>
<ellipse cx="76.33" cy="382.88" rx="0.56" ry="0.58" fill="#e8e8e8" opacity="0.9"/>
<ellipse cx="77.73" cy="392" rx="0.64" ry="0.7" fill="#e8e8e8" opacity="0.9"/>
<ellipse cx="73.2" cy="387.23" rx="0.52" ry="0.58" fill="#e8e8e8" opacity="0.9"/>
<ellipse cx="76.2" cy="390.3" rx="0.43" ry="0.39" fill="#e8e8e8" opacity="0.9"/>
<ellipse cx="78.25" cy="392.13" rx="0.41" ry="0.44" fill="#e8e8e8" opacity="0.9"/>
<ellipse cx="66.19" cy="394.45" rx="0.39" ry="0.51" fill="#e8e8e8" opacity="0.9"/>
<ellipse cx="64.76" cy="387.38" rx="0.72" ry="0.65" fill="#e8e8e8" opacity="0.9"/>
<ellipse cx="71.32" cy="393.49" rx="0.51" ry="0.66" fill="#e8e8e8" opacity="0.9"/>
<ellipse cx="73.5" cy="389.29" rx="0.43" ry="0.43" fill="#e8e8e8" opacity="0.9"/>
<ellipse cx="72.46" cy="394.11" rx="0.62" ry="0.44" fill="#e8e8e8" opacity="0.9"/>
<ellipse cx="75.88" cy="389.8" rx="0.52" ry="0.55" fill="#e8e8e8" opacity="0.9"/>
<ellipse cx="77.83" cy="387.93" rx="0.58" ry="0.57" fill="#e8e8e8" opacity="0.9"/>
<ellipse cx="71.73" cy="389.15" rx="0.75" ry="0.62" fill="#e8e8e8" opacity="0.9"/>
<ellipse cx="76.89" cy="384.78" rx="0.53" ry="0.49" fill="#e8e8e8" opacity="0.9"/>
<ellipse cx="76.49" cy="393.12" rx="0.38" ry="0.37" fill="#e8e8e8" opacity="0.9"/>
<ellipse cx="72.42" cy="391.3" rx="0.5" ry="0.37" fill="#e8e8e8" opacity="0.9"/>
<ellipse cx="73.55" cy="389.7" rx="0.4" ry="0.48" fill="#e8e8e8" opacity="0.9"/>
<ellipse cx="79.44" cy="390.9" rx="0.63" ry="0.4" fill="#e8e8e8" opacity="0.9"/>
<ellipse cx="71.95" cy="392.98" rx="0.51" ry="0.39" fill="#e8e8e8" opacity="0.9"/>
<ellipse cx="76.92" cy="382.83" rx="0.56" ry="0.52" fill="#e8e8e8" opacity="0.9"/>
<ellipse cx="72.94" cy="390.26" rx="0.5" ry="0.44" fill="#e8e8e8" opacity="0.9"/>
<ellipse cx="72.78" cy="388.25" rx="0.36" ry="0.68" fill="#e8e8e8" opacity="0.9"/>
<ellipse cx="70.51" cy="389.43" rx="0.59" ry="0.36" fill="#e8e8e8" opacity="0.9"/>
<ellipse cx="63.79" cy="388.24" rx="0.74" ry="0.59" fill="#e8e8e8" opacity="0.9"/>
<circle cx="72" cy="389.7" r="10.65" fill="none" stroke="#2a2a2a" stroke-width="0.9" opacity="0.45"/>
<circle cx="99.6" cy="389.7" r="11.1" fill="#555555"/>
<circle cx="99.6" cy="389.7" r="11.1" fill="#000" filter="url(#grain)"/>
<ellipse cx="99.36" cy="393.14" rx="0.43" ry="0.62" fill="#e8e8e8" opacity="0.9"/>
<ellipse cx="92.95" cy="388.32" rx="0.5" ry="0.43" fill="#e8e8e8" opacity="0.9"/>
<ellipse cx="102.76" cy="381.93" rx="0.73" ry="0.63" fill="#e8e8e8" opacity="0.9"/>
<ellipse cx="102.3" cy="383.81" rx="0.45" ry="0.53" fill="#e8e8e8" opacity="0.9"/>
<ellipse cx="99.38" cy="389.98" rx="0.36" ry="0.45" fill="#e8e8e8" opacity="0.9"/>
<ellipse cx="99.25" cy="395.8" rx="0.78" ry="0.51" fill="#e8e8e8" opacity="0.9"/>
<ellipse cx="107.36" cy="386.46" rx="0.78" ry="0.48" fill="#e8e8e8" opacity="0.9"/>
<ellipse cx="100.01" cy="391.9" rx="0.44" ry="0.42" fill="#e8e8e8" opacity="0.9"/>
<ellipse cx="94.1" cy="384.26" rx="0.73" ry="0.52" fill="#e8e8e8" opacity="0.9"/>
<ellipse cx="95.62" cy="384" rx="0.39" ry="0.58" fill="#e8e8e8" opacity="0.9"/>
<ellipse cx="105.35" cy="386.04" rx="0.69" ry="0.52" fill="#e8e8e8" opacity="0.9"/>
<ellipse cx="102.58" cy="395.89" rx="0.5" ry="0.63" fill="#e8e8e8" opacity="0.9"/>
<ellipse cx="103.23" cy="389.05" rx="0.53" ry="0.68" fill="#e8e8e8" opacity="0.9"/>
<ellipse cx="99.33" cy="388" rx="0.41" ry="0.4" fill="#e8e8e8" opacity="0.9"/>
<ellipse cx="105.39" cy="385.76" rx="0.42" ry="0.64" fill="#e8e8e8" opacity="0.9"/>
<ellipse cx="105.38" cy="388.98" rx="0.51" ry="0.54" fill="#e8e8e8" opacity="0.9"/>
<ellipse cx="99.73" cy="389.84" rx="0.79" ry="0.58" fill="#e8e8e8" opacity="0.9"/>
<ellipse cx="91.72" cy="388.37" rx="0.55" ry="0.66" fill="#e8e8e8" opacity="0.9"/>
<ellipse cx="100.57" cy="387.84" rx="0.46" ry="0.45" fill="#e8e8e8" opacity="0.9"/>
<ellipse cx="99.91" cy="394.95" rx="0.47" ry="0.5" fill="#e8e8e8" opacity="0.9"/>
<ellipse cx="104.91" cy="395.43" rx="0.51" ry="0.51" fill="#e8e8e8" opacity="0.9"/>
<ellipse cx="92.88" cy="385.82" rx="0.54" ry="0.67" fill="#e8e8e8" opacity="0.9"/>
<ellipse cx="94.79" cy="389.65" rx="0.59" ry="0.36" fill="#e8e8e8" opacity="0.9"/>
<ellipse cx="97.88" cy="390.38" rx="0.35" ry="0.63" fill="#e8e8e8" opacity="0.9"/>
<ellipse cx="101.63" cy="393.53" rx="0.68" ry="0.54" fill="#e8e8e8" opacity="0.9"/>
<ellipse cx="97.44" cy="393.88" rx="0.6" ry="0.62" fill="#e8e8e8" opacity="0.9"/>
<ellipse cx="103.57" cy="392.82" rx="0.46" ry="0.45" fill="#e8e8e8" opacity="0.9"/>
<ellipse cx="100.24" cy="385.13" rx="0.6" ry="0.62" fill="#e8e8e8" opacity="0.9"/>
<ellipse cx="103.08" cy="387.56" rx="0.63" ry="0.53" fill="#e8e8e8" opacity="0.9"/>
<ellipse cx="93.51" cy="389.23" rx="0.55" ry="0.54" fill="#e8e8e8" opacity="0.9"/>
<circle cx="99.6" cy="389.7" r="10.65" fill="none" stroke="#2a2a2a" stroke-width="0.9" opacity="0.45"/>
<circle cx="72" cy="414.9" r="11.1" fill="#444444"/>
<circle cx="72" cy="414.9" r="11.1" fill="#000" filter="url(#grain)"/>
<ellipse cx="64.03" cy="416.01" rx="0.66" ry="0.66" fill="#e8e8e8" opacity="0.9"/>
<ellipse cx="74.36" cy="414" rx="0.6" ry="0.68" fill="#e8e8e8" opacity="0.9"/>
<ellipse cx="72.76" cy="413.7" rx="0.4" ry="0.5" fill="#e8e8e8" opacity="0.9"/>
<ellipse cx="74.12" cy="415.94" rx="0.38" ry="0.58" fill="#e8e8e8" opacity="0.9"/>
<ellipse cx="73.63" cy="407.37" rx="0.42" ry="0.6" fill="#e8e8e8" opacity="0.9"/>
<ellipse cx="71.21" cy="413.65" rx="0.75" ry="0.69" fill="#e8e8e8" opacity="0.9"/>
<ellipse cx="73.55" cy="422.89" rx="0.53" ry="0.52" fill="#e8e8e8" opacity="0.9"/>
<ellipse cx="79.19" cy="414.44" rx="0.42" ry="0.5" fill="#e8e8e8" opacity="0.9"/>
<ellipse cx="68.8" cy="414.59" rx="0.44" ry="0.46" fill="#e8e8e8" opacity="0.9"/>
<ellipse cx="71.96" cy="414.66" rx="0.6" ry="0.5" fill="#e8e8e8" opacity="0.9"/>
<ellipse cx="75.13" cy="415.26" rx="0.63" ry="0.53" fill="#e8e8e8" opacity="0.9"/>
<ellipse cx="79.71" cy="418.2" rx="0.7" ry="0.69" fill="#e8e8e8" opacity="0.9"/>
<ellipse cx="74.04" cy="416.48" rx="0.37" ry="0.62" fill="#e8e8e8" opacity="0.9"/>
<ellipse cx="71.83" cy="416.24" rx="0.54" ry="0.67" fill="#e8e8e8" opacity="0.9"/>
<ellipse cx="73.06" cy="412.62" rx="0.42" ry="0.67" fill="#e8e8e8" opacity="0.9"/>
<ellipse cx="66.43" cy="412.25" rx="0.39" ry="0.37" fill="#e8e8e8" opacity="0.9"/>
<ellipse cx="70.51" cy="411.26" rx="0.38" ry="0.68" fill="#e8e8e8" opacity="0.9"/>
<ellipse cx="67.37" cy="409.69" rx="0.39" ry="0.65" fill="#e8e8e8" opacity="0.9"/>
<ellipse cx="78.8" cy="417.93" rx="0.55" ry="0.47" fill="#e8e8e8" opacity="0.9"/>
<ellipse cx="64.5" cy="412.3" rx="0.47" ry="0.4" fill="#e8e8e8" opacity="0.9"/>
<ellipse cx="69.69" cy="414.51" rx="0.4" ry="0.41" fill="#e8e8e8" opacity="0.9"/>
<ellipse cx="73.91" cy="415.53" rx="0.49" ry="0.46" fill="#e8e8e8" opacity="0.9"/>
<ellipse cx="72.17" cy="412.12" rx="0.58" ry="0.41" fill="#e8e8e8" opacity="0.9"/>
<ellipse cx="71.87" cy="415.09" rx="0.46" ry="0.36" fill="#e8e8e8" opacity="0.9"/>
<ellipse cx="71.47" cy="409.96" rx="0.44" ry="0.52" fill="#e8e8e8" opacity="0.9"/>
<ellipse cx="73.04" cy="414.45" rx="0.72" ry="0.5" fill="#e8e8e8" opacity="0.9"/>
<ellipse cx="64.78" cy="415.13" rx="0.53" ry="0.53" fill="#e8e8e8" opacity="0.9"/>
<ellipse cx="68.81" cy="407.17" rx="0.5" ry="0.64" fill="#e8e8e8" opacity="0.9"/>
<ellipse cx="70.48" cy="409.45" rx="0.53" ry="0.47" fill="#e8e8e8" opacity="0.9"/>
<ellipse cx="73.28" cy="415.35" rx="0.38" ry="0.61" fill="#e8e8e8" opacity="0.9"/>
<circle cx="72" cy="414.9" r="10.65" fill="none" stroke="#2a2a2a" stroke-width="0.9" opacity="0.45"/>
<circle cx="99.6" cy="414.9" r="11.1" fill="#4a4a4a"/>
<circle cx="99.6" cy="414.9" r="11.1" fill="#000" filter="url(#grain)"/>
<ellipse cx="99.54" cy="416.56" rx="0.39" ry="0.64" fill="#e8e8e8" opacity="0.9"/>
<ellipse cx="103.68" cy="410.59" rx="0.48" ry="0.43" fill="#e8e8e8" opacity="0.9"/>
<ellipse cx="98.47" cy="418.97" rx="0.42" ry="0.51" fill="#e8e8e8" opacity="0.9"/>
<ellipse cx="98.92" cy="423.08" rx="0.79" ry="0.54" fill="#e8e8e8" opacity="0.9"/>
<ellipse cx="99.89" cy="423.13" rx="0.49" ry="0.47" fill="#e8e8e8" opacity="0.9"/>
<ellipse cx="103.17" cy="414.92" rx="0.56" ry="0.53" fill="#e8e8e8" opacity="0.9"/>
<ellipse cx="100.99" cy="419.28" rx="0.35" ry="0.44" fill="#e8e8e8" opacity="0.9"/>
<ellipse cx="102.75" cy="416.89" rx="0.37" ry="0.36" fill="#e8e8e8" opacity="0.9"/>
<ellipse cx="98.83" cy="417.06" rx="0.61" ry="0.54" fill="#e8e8e8" opacity="0.9"/>
<ellipse cx="99.62" cy="409.07" rx="0.67" ry="0.66" fill="#e8e8e8" opacity="0.9"/>
<ellipse cx="97.22" cy="416.88" rx="0.79" ry="0.4" fill="#e8e8e8" opacity="0.9"/>
<ellipse cx="98.68" cy="409.26" rx="0.37" ry="0.64" fill="#e8e8e8" opacity="0.9"/>
<ellipse cx="103.95" cy="411.39" rx="0.68" ry="0.63" fill="#e8e8e8" opacity="0.9"/>
<ellipse cx="102.64" cy="418.55" rx="0.58" ry="0.64" fill="#e8e8e8" opacity="0.9"/>
<ellipse cx="102.01" cy="408.16" rx="0.61" ry="0.66" fill="#e8e8e8" opacity="0.9"/>
<ellipse cx="97.1" cy="409.32" rx="0.45" ry="0.36" fill="#e8e8e8" opacity="0.9"/>
<ellipse cx="101.88" cy="417.42" rx="0.4" ry="0.64" fill="#e8e8e8" opacity="0.9"/>
<ellipse cx="94.38" cy="412.89" rx="0.63" ry="0.59" fill="#e8e8e8" opacity="0.9"/>
<ellipse cx="99.55" cy="414.9" rx="0.71" ry="0.61" fill="#e8e8e8" opacity="0.9"/>
<ellipse cx="94.76" cy="414.81" rx="0.65" ry="0.37" fill="#e8e8e8" opacity="0.9"/>
<ellipse cx="99.4" cy="412.45" rx="0.38" ry="0.44" fill="#e8e8e8" opacity="0.9"/>
<ellipse cx="99.34" cy="412.87" rx="0.68" ry="0.69" fill="#e8e8e8" opacity="0.9"/>
<ellipse cx="96.02" cy="415.04" rx="0.57" ry="0.59" fill="#e8e8e8" opacity="0.9"/>
<ellipse cx="100.19" cy="409.43" rx="0.64" ry="0.38" fill="#e8e8e8" opacity="0.9"/>
<ellipse cx="101.09" cy="416.88" rx="0.68" ry="0.46" fill="#e8e8e8" opacity="0.9"/>
<ellipse cx="99.45" cy="414.83" rx="0.38" ry="0.44" fill="#e8e8e8" opacity="0.9"/>
<ellipse cx="96.73" cy="409.51" rx="0.65" ry="0.45" fill="#e8e8e8" opacity="0.9"/>
<ellipse cx="95.36" cy="414.46" rx="0.56" ry="0.39" fill="#e8e8e8" opacity="0.9"/>
<ellipse cx="101.16" cy="413.67" rx="0.79" ry="0.68" fill="#e8e8e8" opacity="0.9"/>
<ellipse cx="103.79" cy="415.36" rx="0.72" ry="0.69" fill="#e8e8e8" opacity="0.9"/>
<circle cx="99.6" cy="414.9" r="10.65" fill="none" stroke="#2a2a2a" stroke-width="0.9" opacity="0.45"/>
<rect x="135.4" y="382.12" width="6.7" height="36.98" fill="#767676" stroke="#111" stroke-width="0.9"/>
<rect x="145.3" y="382.98" width="6.7" height="36.12" fill="#dadada" stroke="#111" stroke-width="0.9"/>
<rect x="155.3" y="382.55" width="6.7" height="36.55" fill="#c6c6c6" stroke="#111" stroke-width="0.9"/>
<rect x="165.1" y="380.83" width="6.7" height="38.27" fill="#f4f4f4" stroke="#111" stroke-width="0.9"/>
<line x1="138.75" y1="381.48" x2="138.75" y2="382.77" stroke="#000" stroke-width="0.7"/>
<line x1="136.75" y1="381.48" x2="140.75" y2="381.48" stroke="#000" stroke-width="0.75"/>
<circle cx="137.65" cy="380.4" r="1.2" fill="#000"/>
<circle cx="138.75" cy="382.12" r="1.2" fill="#000"/>
<circle cx="139.85" cy="382.98" r="1.2" fill="#000"/>
<line x1="148.65" y1="382.12" x2="148.65" y2="383.84" stroke="#000" stroke-width="0.7"/>
<line x1="146.65" y1="382.12" x2="150.65" y2="382.12" stroke="#000" stroke-width="0.75"/>
<circle cx="147.55" cy="380.83" r="1.2" fill="#000"/>
<circle cx="148.65" cy="383.41" r="1.2" fill="#000"/>
<circle cx="149.75" cy="383.84" r="1.2" fill="#000"/>
<line x1="158.65" y1="380.83" x2="158.65" y2="384.27" stroke="#000" stroke-width="0.7"/>
<line x1="156.65" y1="380.83" x2="160.65" y2="380.83" stroke="#000" stroke-width="0.75"/>
<circle cx="157.55" cy="379.11" r="1.2" fill="#000"/>
<circle cx="158.65" cy="384.7" r="1.2" fill="#000"/>
<circle cx="159.75" cy="383.41" r="1.2" fill="#000"/>
<line x1="168.45" y1="379.97" x2="168.45" y2="381.69" stroke="#000" stroke-width="0.7"/>
<line x1="166.45" y1="379.97" x2="170.45" y2="379.97" stroke="#000" stroke-width="0.75"/>
<circle cx="167.35" cy="379.11" r="1.2" fill="#000"/>
<circle cx="168.45" cy="381.26" r="1.2" fill="#000"/>
<circle cx="169.55" cy="381.69" r="1.2" fill="#000"/>
<line x1="132.2" y1="375.6" x2="132.2" y2="419.5" stroke="#000" stroke-width="0.9"/>
<line x1="131.8" y1="419.1" x2="174" y2="419.1" stroke="#000" stroke-width="0.9"/>
<line x1="130.6" y1="419.1" x2="132.2" y2="419.1" stroke="#000" stroke-width="0.7"/>
<text x="130.2" y="421.1" font-size="5.6" text-anchor="end">0</text>
<line x1="130.6" y1="408.35" x2="132.2" y2="408.35" stroke="#000" stroke-width="0.7"/>
<text x="130.2" y="410.35" font-size="5.6" text-anchor="end">25</text>
<line x1="130.6" y1="397.6" x2="132.2" y2="397.6" stroke="#000" stroke-width="0.7"/>
<text x="130.2" y="399.6" font-size="5.6" text-anchor="end">50</text>
<line x1="130.6" y1="386.85" x2="132.2" y2="386.85" stroke="#000" stroke-width="0.7"/>
<text x="130.2" y="388.85" font-size="5.6" text-anchor="end">75</text>
<line x1="130.6" y1="376.1" x2="132.2" y2="376.1" stroke="#000" stroke-width="0.7"/>
<text x="130.2" y="378.1" font-size="5.6" text-anchor="end">100</text>
<line x1="131.3" y1="413.73" x2="132.2" y2="413.73" stroke="#000" stroke-width="0.5"/>
<line x1="131.3" y1="402.98" x2="132.2" y2="402.98" stroke="#000" stroke-width="0.5"/>
<line x1="131.3" y1="392.23" x2="132.2" y2="392.23" stroke="#000" stroke-width="0.5"/>
<line x1="131.3" y1="381.48" x2="132.2" y2="381.48" stroke="#000" stroke-width="0.5"/>
<line x1="138.75" y1="419.1" x2="138.75" y2="420.7" stroke="#000" stroke-width="0.7"/>
<line x1="148.65" y1="419.1" x2="148.65" y2="420.7" stroke="#000" stroke-width="0.7"/>
<line x1="158.65" y1="419.1" x2="158.65" y2="420.7" stroke="#000" stroke-width="0.7"/>
<line x1="168.45" y1="419.1" x2="168.45" y2="420.7" stroke="#000" stroke-width="0.7"/>
<text x="119" y="396.4" font-size="5.7" text-anchor="middle" transform="rotate(-90 119 396.4)">Colony area (%)</text>
<text x="140.55" y="424.5" font-size="6.1" text-anchor="end" transform="rotate(-45 140.55 424.5)">DMSO</text>
<text x="150.45" y="424.5" font-size="6.1" text-anchor="end" transform="rotate(-45 150.45 424.5)">AZD4547</text>
<text x="160.45" y="424.5" font-size="6.1" text-anchor="end" transform="rotate(-45 160.45 424.5)">GSK126</text>
<text x="170.25" y="424.5" font-size="6.1" text-anchor="end" transform="rotate(-45 170.25 424.5)">Combination</text>
<line x1="141.4" y1="357" x2="169.4" y2="357" stroke="#555" stroke-width="1"/>
<text x="155.4" y="355.3" font-size="6.2" text-anchor="middle">ns</text>
<line x1="150.3" y1="365.7" x2="169.4" y2="365.7" stroke="#555" stroke-width="1"/>
<text x="159.85" y="364" font-size="6.2" text-anchor="middle">ns</text>
<line x1="158.9" y1="373.9" x2="168.8" y2="373.9" stroke="#555" stroke-width="1"/>
<text x="163.85" y="372.2" font-size="6.2" text-anchor="middle">ns</text>
<text x="223.1" y="262.7" font-size="9" fill="#1a9a48" color="#1a9a48">NCI-H2452</text>
<text x="264.6" y="272" font-size="7.3">GSK126</text>
<text x="233.8" y="288.9" font-size="7.3" text-anchor="end">DMSO</text>
<text x="233.8" y="313.5" font-size="7.3" text-anchor="end">AZD4547</text>
<circle cx="251.9" cy="286.2" r="11.1" fill="#bcbcbc"/>
<circle cx="251.9" cy="286.2" r="11.1" fill="#000" filter="url(#lgrain)"/>
<circle cx="251.9" cy="286.2" r="9.6" fill="#000" filter="url(#dmottle)" opacity="0.8"/>
<circle cx="251.9" cy="286.2" r="10.65" fill="none" stroke="#2a2a2a" stroke-width="0.9" opacity="0.25"/>
<circle cx="278.5" cy="286.2" r="11.1" fill="#dadada"/>
<circle cx="278.5" cy="286.2" r="11.1" fill="#000" filter="url(#lgrain)"/>
<circle cx="278.5" cy="286.2" r="9.6" fill="#000" filter="url(#dmottle)" opacity="0.8"/>
<circle cx="278.5" cy="286.2" r="10.65" fill="none" stroke="#2a2a2a" stroke-width="0.9" opacity="0.08"/>
<circle cx="251.9" cy="311" r="11.1" fill="#8e8e8e"/>
<circle cx="251.9" cy="311" r="11.1" fill="#000" filter="url(#grain)"/>
<circle cx="251.9" cy="311" r="9.6" fill="#000" filter="url(#dmottle)" opacity="0.8"/>
<circle cx="251.9" cy="311" r="10.65" fill="none" stroke="#2a2a2a" stroke-width="0.9" opacity="0.45"/>
<circle cx="278.5" cy="311" r="11.1" fill="#d6d6d6"/>
<circle cx="278.5" cy="311" r="11.1" fill="#000" filter="url(#lgrain)"/>
<circle cx="278.5" cy="311" r="10.65" fill="none" stroke="#2a2a2a" stroke-width="0.9" opacity="0.08"/>
<rect x="318.6" y="289.82" width="6.5" height="25.48" fill="#767676" stroke="#111" stroke-width="0.9"/>
<rect x="328.1" y="289.82" width="6.5" height="25.48" fill="#dadada" stroke="#111" stroke-width="0.9"/>
<rect x="337.2" y="293.93" width="6.5" height="21.37" fill="#c6c6c6" stroke="#111" stroke-width="0.9"/>
<rect x="346.5" y="314.07" width="6.5" height="1.23" fill="#f4f4f4" stroke="#111" stroke-width="0.9"/>
<line x1="321.85" y1="285.71" x2="321.85" y2="293.93" stroke="#000" stroke-width="0.7"/>
<line x1="319.85" y1="285.71" x2="323.85" y2="285.71" stroke="#000" stroke-width="0.75"/>
<circle cx="320.75" cy="284.06" r="1.2" fill="#000"/>
<circle cx="321.85" cy="290.64" r="1.2" fill="#000"/>
<circle cx="322.95" cy="295.57" r="1.2" fill="#000"/>
<line x1="331.35" y1="286.53" x2="331.35" y2="293.11" stroke="#000" stroke-width="0.7"/>
<line x1="329.35" y1="286.53" x2="333.35" y2="286.53" stroke="#000" stroke-width="0.75"/>
<circle cx="330.25" cy="281.6" r="1.2" fill="#000"/>
<circle cx="331.35" cy="290.64" r="1.2" fill="#000"/>
<circle cx="332.45" cy="293.93" r="1.2" fill="#000"/>
<line x1="340.45" y1="290.64" x2="340.45" y2="297.22" stroke="#000" stroke-width="0.7"/>
<line x1="338.45" y1="290.64" x2="342.45" y2="290.64" stroke="#000" stroke-width="0.75"/>
<circle cx="339.35" cy="286.53" r="1.2" fill="#000"/>
<circle cx="340.45" cy="294.75" r="1.2" fill="#000"/>
<circle cx="341.55" cy="297.22" r="1.2" fill="#000"/>
<line x1="349.75" y1="313.25" x2="349.75" y2="314.89" stroke="#000" stroke-width="0.7"/>
<line x1="347.75" y1="313.25" x2="351.75" y2="313.25" stroke="#000" stroke-width="0.75"/>
<circle cx="348.65" cy="312.83" r="1.2" fill="#000"/>
<circle cx="349.75" cy="314.48" r="1.2" fill="#000"/>
<circle cx="350.85" cy="314.89" r="1.2" fill="#000"/>
<line x1="315.5" y1="273.7" x2="315.5" y2="315.7" stroke="#000" stroke-width="0.9"/>
<line x1="315.1" y1="315.3" x2="355.2" y2="315.3" stroke="#000" stroke-width="0.9"/>
<line x1="313.9" y1="315.3" x2="315.5" y2="315.3" stroke="#000" stroke-width="0.7"/>
<text x="313.5" y="317.3" font-size="5.6" text-anchor="end">0</text>
<line x1="313.9" y1="305.02" x2="315.5" y2="305.02" stroke="#000" stroke-width="0.7"/>
<text x="313.5" y="307.02" font-size="5.6" text-anchor="end">25</text>
<line x1="313.9" y1="294.75" x2="315.5" y2="294.75" stroke="#000" stroke-width="0.7"/>
<text x="313.5" y="296.75" font-size="5.6" text-anchor="end">50</text>
<line x1="313.9" y1="284.47" x2="315.5" y2="284.47" stroke="#000" stroke-width="0.7"/>
<text x="313.5" y="286.47" font-size="5.6" text-anchor="end">75</text>
<line x1="313.9" y1="274.2" x2="315.5" y2="274.2" stroke="#000" stroke-width="0.7"/>
<text x="313.5" y="276.2" font-size="5.6" text-anchor="end">100</text>
<line x1="314.6" y1="310.16" x2="315.5" y2="310.16" stroke="#000" stroke-width="0.5"/>
<line x1="314.6" y1="299.89" x2="315.5" y2="299.89" stroke="#000" stroke-width="0.5"/>
<line x1="314.6" y1="289.61" x2="315.5" y2="289.61" stroke="#000" stroke-width="0.5"/>
<line x1="314.6" y1="279.34" x2="315.5" y2="279.34" stroke="#000" stroke-width="0.5"/>
<line x1="321.85" y1="315.3" x2="321.85" y2="316.9" stroke="#000" stroke-width="0.7"/>
<line x1="331.35" y1="315.3" x2="331.35" y2="316.9" stroke="#000" stroke-width="0.7"/>
<line x1="340.45" y1="315.3" x2="340.45" y2="316.9" stroke="#000" stroke-width="0.7"/>
<line x1="349.75" y1="315.3" x2="349.75" y2="316.9" stroke="#000" stroke-width="0.7"/>
<text x="302.3" y="293.55" font-size="5.7" text-anchor="middle" transform="rotate(-90 302.3 293.55)">Colony area (%)</text>
<text x="323.65" y="320.7" font-size="6.1" text-anchor="end" transform="rotate(-45 323.65 320.7)">DMSO</text>
<text x="333.15" y="320.7" font-size="6.1" text-anchor="end" transform="rotate(-45 333.15 320.7)">AZD4547</text>
<text x="342.25" y="320.7" font-size="6.1" text-anchor="end" transform="rotate(-45 342.25 320.7)">GSK126</text>
<text x="351.55" y="320.7" font-size="6.1" text-anchor="end" transform="rotate(-45 351.55 320.7)">Combination</text>
<line x1="322.5" y1="260.2" x2="350.7" y2="260.2" stroke="#555" stroke-width="1"/>
<text x="337" y="260.4" font-size="8.5" text-anchor="middle" font-weight="bold" letter-spacing="0.7">**</text>
<line x1="331.6" y1="268.8" x2="350.7" y2="268.8" stroke="#555" stroke-width="1"/>
<text x="341.55" y="269" font-size="8.5" text-anchor="middle" font-weight="bold" letter-spacing="0.7">**</text>
<line x1="339.8" y1="277.3" x2="350.2" y2="277.3" stroke="#555" stroke-width="1"/>
<text x="345.4" y="277.5" font-size="8.5" text-anchor="middle" font-weight="bold" letter-spacing="0.7">**</text>
<text x="381.5" y="263.5" font-size="9" fill="#1a9a48" color="#1a9a48">NCI-H2731</text>
<text x="422.9" y="272.7" font-size="7.3">GSK126</text>
<text x="392.3" y="289.5" font-size="7.3" text-anchor="end">DMSO</text>
<text x="392.3" y="314.4" font-size="7.3" text-anchor="end">AZD4547</text>
<circle cx="411.7" cy="287.2" r="11.1" fill="#4e4e4e"/>
<circle cx="411.7" cy="287.2" r="11.1" fill="#000" filter="url(#grain)"/>
<circle cx="411.7" cy="287.2" r="10.65" fill="none" stroke="#2a2a2a" stroke-width="0.9" opacity="0.45"/>
<circle cx="437.1" cy="287.2" r="11.1" fill="#5a5a5a"/>
<circle cx="437.1" cy="287.2" r="11.1" fill="#000" filter="url(#grain)"/>
<circle cx="437.1" cy="287.2" r="10.65" fill="none" stroke="#2a2a2a" stroke-width="0.9" opacity="0.45"/>
<circle cx="411.7" cy="312.3" r="11.1" fill="#5a5a5a"/>
<circle cx="411.7" cy="312.3" r="11.1" fill="#000" filter="url(#grain)"/>
<circle cx="411.7" cy="312.3" r="10.65" fill="none" stroke="#2a2a2a" stroke-width="0.9" opacity="0.45"/>
<circle cx="437.1" cy="312.3" r="11.1" fill="#f4f4f4"/>
<circle cx="437.1" cy="312.3" r="11.1" fill="#000" filter="url(#lgrain)"/>
<circle cx="437.1" cy="312.3" r="10.65" fill="none" stroke="#2a2a2a" stroke-width="0.9" opacity="0.08"/>
<rect x="474.9" y="276.57" width="7" height="40.73" fill="#767676" stroke="#111" stroke-width="0.9"/>
<rect x="485.6" y="277.88" width="7" height="39.42" fill="#dadada" stroke="#111" stroke-width="0.9"/>
<rect x="495.1" y="277" width="7" height="40.3" fill="#c6c6c6" stroke="#111" stroke-width="0.9"/>
<rect x="506.3" y="310.73" width="7" height="6.57" fill="#f4f4f4" stroke="#111" stroke-width="0.9"/>
<line x1="478.4" y1="276.04" x2="478.4" y2="277.09" stroke="#000" stroke-width="0.7"/>
<line x1="476.4" y1="276.04" x2="480.4" y2="276.04" stroke="#000" stroke-width="0.75"/>
<circle cx="477.3" cy="275.69" r="1.2" fill="#000"/>
<circle cx="478.4" cy="276.57" r="1.2" fill="#000"/>
<circle cx="479.5" cy="277" r="1.2" fill="#000"/>
<line x1="489.1" y1="275.69" x2="489.1" y2="280.07" stroke="#000" stroke-width="0.7"/>
<line x1="487.1" y1="275.69" x2="491.1" y2="275.69" stroke="#000" stroke-width="0.75"/>
<circle cx="488" cy="274.81" r="1.2" fill="#000"/>
<circle cx="489.1" cy="277.88" r="1.2" fill="#000"/>
<circle cx="490.2" cy="280.95" r="1.2" fill="#000"/>
<line x1="498.6" y1="276.13" x2="498.6" y2="277.88" stroke="#000" stroke-width="0.7"/>
<line x1="496.6" y1="276.13" x2="500.6" y2="276.13" stroke="#000" stroke-width="0.75"/>
<circle cx="497.5" cy="275.69" r="1.2" fill="#000"/>
<circle cx="498.6" cy="277" r="1.2" fill="#000"/>
<circle cx="499.7" cy="277.88" r="1.2" fill="#000"/>
<line x1="509.8" y1="307.23" x2="509.8" y2="314.23" stroke="#000" stroke-width="0.7"/>
<line x1="507.8" y1="307.23" x2="511.8" y2="307.23" stroke="#000" stroke-width="0.75"/>
<circle cx="508.7" cy="306.35" r="1.2" fill="#000"/>
<circle cx="509.8" cy="312.04" r="1.2" fill="#000"/>
<circle cx="510.9" cy="313.8" r="1.2" fill="#000"/>
<line x1="471.6" y1="273" x2="471.6" y2="317.7" stroke="#000" stroke-width="0.9"/>
<line x1="471.2" y1="317.3" x2="515.5" y2="317.3" stroke="#000" stroke-width="0.9"/>
<line x1="470" y1="317.3" x2="471.6" y2="317.3" stroke="#000" stroke-width="0.7"/>
<text x="469.6" y="319.3" font-size="5.6" text-anchor="end">0</text>
<line x1="470" y1="306.35" x2="471.6" y2="306.35" stroke="#000" stroke-width="0.7"/>
<text x="469.6" y="308.35" font-size="5.6" text-anchor="end">25</text>
<line x1="470" y1="295.4" x2="471.6" y2="295.4" stroke="#000" stroke-width="0.7"/>
<text x="469.6" y="297.4" font-size="5.6" text-anchor="end">50</text>
<line x1="470" y1="284.45" x2="471.6" y2="284.45" stroke="#000" stroke-width="0.7"/>
<text x="469.6" y="286.45" font-size="5.6" text-anchor="end">75</text>
<line x1="470" y1="273.5" x2="471.6" y2="273.5" stroke="#000" stroke-width="0.7"/>
<text x="469.6" y="275.5" font-size="5.6" text-anchor="end">100</text>
<line x1="470.7" y1="311.82" x2="471.6" y2="311.82" stroke="#000" stroke-width="0.5"/>
<line x1="470.7" y1="300.88" x2="471.6" y2="300.88" stroke="#000" stroke-width="0.5"/>
<line x1="470.7" y1="289.93" x2="471.6" y2="289.93" stroke="#000" stroke-width="0.5"/>
<line x1="470.7" y1="278.98" x2="471.6" y2="278.98" stroke="#000" stroke-width="0.5"/>
<line x1="478.4" y1="317.3" x2="478.4" y2="318.9" stroke="#000" stroke-width="0.7"/>
<line x1="489.1" y1="317.3" x2="489.1" y2="318.9" stroke="#000" stroke-width="0.7"/>
<line x1="498.6" y1="317.3" x2="498.6" y2="318.9" stroke="#000" stroke-width="0.7"/>
<line x1="509.8" y1="317.3" x2="509.8" y2="318.9" stroke="#000" stroke-width="0.7"/>
<text x="458.4" y="294.2" font-size="5.7" text-anchor="middle" transform="rotate(-90 458.4 294.2)">Colony area (%)</text>
<text x="480.2" y="322.7" font-size="6.1" text-anchor="end" transform="rotate(-45 480.2 322.7)">DMSO</text>
<text x="490.9" y="322.7" font-size="6.1" text-anchor="end" transform="rotate(-45 490.9 322.7)">AZD4547</text>
<text x="500.4" y="322.7" font-size="6.1" text-anchor="end" transform="rotate(-45 500.4 322.7)">GSK126</text>
<text x="511.6" y="322.7" font-size="6.1" text-anchor="end" transform="rotate(-45 511.6 322.7)">Combination</text>
<line x1="481.9" y1="254.2" x2="510" y2="254.2" stroke="#555" stroke-width="1"/>
<text x="496.35" y="254.4" font-size="8.5" text-anchor="middle" font-weight="bold" letter-spacing="0.7">***</text>
<line x1="491.5" y1="263.5" x2="510" y2="263.5" stroke="#555" stroke-width="1"/>
<text x="501.15" y="263.7" font-size="8.5" text-anchor="middle" font-weight="bold" letter-spacing="0.7">**</text>
<line x1="499.8" y1="272.1" x2="510" y2="272.1" stroke="#555" stroke-width="1"/>
<text x="505.3" y="272.3" font-size="8.5" text-anchor="middle" font-weight="bold" letter-spacing="0.7">***</text>
<text x="216.9" y="365.7" font-size="9" fill="#e0141e" color="#e0141e">NCI-H2810</text>
<text x="264.9" y="374.2" font-size="7.3">GSK126</text>
<text x="234.2" y="390.7" font-size="7.3" text-anchor="end">DMSO</text>
<text x="234.2" y="415.4" font-size="7.3" text-anchor="end">AZD4547</text>
<circle cx="252.4" cy="388.4" r="11.1" fill="#828282"/>
<circle cx="252.4" cy="388.4" r="11.1" fill="#000" filter="url(#grain)"/>
<circle cx="252.4" cy="388.4" r="10.65" fill="none" stroke="#2a2a2a" stroke-width="0.9" opacity="0.45"/>
<circle cx="278.4" cy="388.4" r="11.1" fill="#848484"/>
<circle cx="278.4" cy="388.4" r="11.1" fill="#000" filter="url(#grain)"/>
<circle cx="278.4" cy="388.4" r="10.65" fill="none" stroke="#2a2a2a" stroke-width="0.9" opacity="0.45"/>
<circle cx="252.4" cy="412.9" r="11.1" fill="#a4a4a4"/>
<circle cx="252.4" cy="412.9" r="11.1" fill="#000" filter="url(#grain)"/>
<circle cx="252.4" cy="412.9" r="10.65" fill="none" stroke="#2a2a2a" stroke-width="0.9" opacity="0.25"/>
<circle cx="278.4" cy="412.9" r="11.1" fill="#9c9c9c"/>
<circle cx="278.4" cy="412.9" r="11.1" fill="#000" filter="url(#grain)"/>
<circle cx="278.4" cy="412.9" r="10.65" fill="none" stroke="#2a2a2a" stroke-width="0.9" opacity="0.25"/>
<rect x="314.5" y="376.45" width="6.5" height="40.85" fill="#767676" stroke="#111" stroke-width="0.9"/>
<rect x="324.7" y="377.31" width="6.5" height="39.99" fill="#dadada" stroke="#111" stroke-width="0.9"/>
<rect x="334.6" y="375.59" width="6.5" height="41.71" fill="#c6c6c6" stroke="#111" stroke-width="0.9"/>
<rect x="344.7" y="375.59" width="6.5" height="41.71" fill="#f4f4f4" stroke="#111" stroke-width="0.9"/>
<line x1="317.75" y1="376.11" x2="317.75" y2="376.79" stroke="#000" stroke-width="0.7"/>
<line x1="315.75" y1="376.11" x2="319.75" y2="376.11" stroke="#000" stroke-width="0.75"/>
<circle cx="316.65" cy="376.02" r="1.2" fill="#000"/>
<circle cx="317.75" cy="376.45" r="1.2" fill="#000"/>
<circle cx="318.85" cy="376.45" r="1.2" fill="#000"/>
<line x1="327.95" y1="376.88" x2="327.95" y2="377.74" stroke="#000" stroke-width="0.7"/>
<line x1="325.95" y1="376.88" x2="329.95" y2="376.88" stroke="#000" stroke-width="0.75"/>
<circle cx="326.85" cy="376.88" r="1.2" fill="#000"/>
<circle cx="327.95" cy="377.31" r="1.2" fill="#000"/>
<circle cx="329.05" cy="377.31" r="1.2" fill="#000"/>
<line x1="337.85" y1="374.94" x2="337.85" y2="376.24" stroke="#000" stroke-width="0.7"/>
<line x1="335.85" y1="374.94" x2="339.85" y2="374.94" stroke="#000" stroke-width="0.75"/>
<circle cx="336.75" cy="375.16" r="1.2" fill="#000"/>
<circle cx="337.85" cy="375.59" r="1.2" fill="#000"/>
<circle cx="338.95" cy="376.02" r="1.2" fill="#000"/>
<line x1="347.95" y1="375.25" x2="347.95" y2="375.93" stroke="#000" stroke-width="0.7"/>
<line x1="345.95" y1="375.25" x2="349.95" y2="375.25" stroke="#000" stroke-width="0.75"/>
<circle cx="346.85" cy="375.59" r="1.2" fill="#000"/>
<circle cx="347.95" cy="375.59" r="1.2" fill="#000"/>
<circle cx="349.05" cy="376.02" r="1.2" fill="#000"/>
<line x1="311.6" y1="373.8" x2="311.6" y2="417.7" stroke="#000" stroke-width="0.9"/>
<line x1="311.2" y1="417.3" x2="353.4" y2="417.3" stroke="#000" stroke-width="0.9"/>
<line x1="310" y1="417.3" x2="311.6" y2="417.3" stroke="#000" stroke-width="0.7"/>
<text x="309.6" y="419.3" font-size="5.6" text-anchor="end">0</text>
<line x1="310" y1="406.55" x2="311.6" y2="406.55" stroke="#000" stroke-width="0.7"/>
<text x="309.6" y="408.55" font-size="5.6" text-anchor="end">25</text>
<line x1="310" y1="395.8" x2="311.6" y2="395.8" stroke="#000" stroke-width="0.7"/>
<text x="309.6" y="397.8" font-size="5.6" text-anchor="end">50</text>
<line x1="310" y1="385.05" x2="311.6" y2="385.05" stroke="#000" stroke-width="0.7"/>
<text x="309.6" y="387.05" font-size="5.6" text-anchor="end">75</text>
<line x1="310" y1="374.3" x2="311.6" y2="374.3" stroke="#000" stroke-width="0.7"/>
<text x="309.6" y="376.3" font-size="5.6" text-anchor="end">100</text>
<line x1="310.7" y1="411.93" x2="311.6" y2="411.93" stroke="#000" stroke-width="0.5"/>
<line x1="310.7" y1="401.18" x2="311.6" y2="401.18" stroke="#000" stroke-width="0.5"/>
<line x1="310.7" y1="390.43" x2="311.6" y2="390.43" stroke="#000" stroke-width="0.5"/>
<line x1="310.7" y1="379.68" x2="311.6" y2="379.68" stroke="#000" stroke-width="0.5"/>
<line x1="317.75" y1="417.3" x2="317.75" y2="418.9" stroke="#000" stroke-width="0.7"/>
<line x1="327.95" y1="417.3" x2="327.95" y2="418.9" stroke="#000" stroke-width="0.7"/>
<line x1="337.85" y1="417.3" x2="337.85" y2="418.9" stroke="#000" stroke-width="0.7"/>
<line x1="347.95" y1="417.3" x2="347.95" y2="418.9" stroke="#000" stroke-width="0.7"/>
<text x="298.4" y="394.6" font-size="5.7" text-anchor="middle" transform="rotate(-90 298.4 394.6)">Colony area (%)</text>
<text x="319.55" y="422.7" font-size="6.1" text-anchor="end" transform="rotate(-45 319.55 422.7)">DMSO</text>
<text x="329.75" y="422.7" font-size="6.1" text-anchor="end" transform="rotate(-45 329.75 422.7)">AZD4547</text>
<text x="339.65" y="422.7" font-size="6.1" text-anchor="end" transform="rotate(-45 339.65 422.7)">GSK126</text>
<text x="349.75" y="422.7" font-size="6.1" text-anchor="end" transform="rotate(-45 349.75 422.7)">Combination</text>
<line x1="320.5" y1="355.2" x2="348.7" y2="355.2" stroke="#555" stroke-width="1"/>
<text x="334.6" y="353.5" font-size="6.2" text-anchor="middle">ns</text>
<line x1="329.7" y1="363.8" x2="348.7" y2="363.8" stroke="#555" stroke-width="1"/>
<text x="339.2" y="362.1" font-size="6.2" text-anchor="middle">ns</text>
<line x1="337.5" y1="372.3" x2="348" y2="372.3" stroke="#555" stroke-width="1"/>
<text x="342.75" y="370.6" font-size="6.2" text-anchor="middle">ns</text>
<text x="374.6" y="365" font-size="9" fill="#e0141e" color="#e0141e">NCI-H2818</text>
<text x="423.1" y="374.2" font-size="7.3">GSK126</text>
<text x="392.4" y="390.7" font-size="7.3" text-anchor="end">DMSO</text>
<text x="392.4" y="415.4" font-size="7.3" text-anchor="end">AZD4547</text>
<circle cx="410.7" cy="388.4" r="11.1" fill="#a2a2a2"/>
<circle cx="410.7" cy="388.4" r="11.1" fill="#000" filter="url(#sgrain)"/>
<circle cx="410.7" cy="388.4" r="10.65" fill="none" stroke="#2a2a2a" stroke-width="0.9" opacity="0.25"/>
<circle cx="436.6" cy="388.4" r="11.1" fill="#c6c6c6"/>
<circle cx="436.6" cy="388.4" r="11.1" fill="#000" filter="url(#sgrain)"/>
<circle cx="436.6" cy="388.4" r="10.65" fill="none" stroke="#2a2a2a" stroke-width="0.9" opacity="0.25"/>
<circle cx="410.7" cy="413.8" r="11.1" fill="#8a8a8a"/>
<circle cx="410.7" cy="413.8" r="11.1" fill="#000" filter="url(#sgrain)"/>
<circle cx="410.7" cy="413.8" r="10.65" fill="none" stroke="#2a2a2a" stroke-width="0.9" opacity="0.45"/>
<circle cx="436.6" cy="413.8" r="11.1" fill="#c4c4c4"/>
<circle cx="436.6" cy="413.8" r="11.1" fill="#000" filter="url(#sgrain)"/>
<circle cx="436.6" cy="413.8" r="10.65" fill="none" stroke="#2a2a2a" stroke-width="0.9" opacity="0.25"/>
<rect x="473.1" y="382.99" width="6.6" height="35.01" fill="#767676" stroke="#111" stroke-width="0.9"/>
<rect x="482.6" y="382.13" width="6.6" height="35.87" fill="#dadada" stroke="#111" stroke-width="0.9"/>
<rect x="492.4" y="381.71" width="6.6" height="36.29" fill="#c6c6c6" stroke="#111" stroke-width="0.9"/>
<rect x="502.4" y="388.96" width="6.6" height="29.04" fill="#f4f4f4" stroke="#111" stroke-width="0.9"/>
<line x1="476.4" y1="379.57" x2="476.4" y2="386.4" stroke="#000" stroke-width="0.7"/>
<line x1="474.4" y1="379.57" x2="478.4" y2="379.57" stroke="#000" stroke-width="0.75"/>
<circle cx="475.3" cy="377.44" r="1.2" fill="#000"/>
<circle cx="476.4" cy="383.84" r="1.2" fill="#000"/>
<circle cx="477.5" cy="388.11" r="1.2" fill="#000"/>
<line x1="485.9" y1="379.14" x2="485.9" y2="385.12" stroke="#000" stroke-width="0.7"/>
<line x1="483.9" y1="379.14" x2="487.9" y2="379.14" stroke="#000" stroke-width="0.75"/>
<circle cx="484.8" cy="377.44" r="1.2" fill="#000"/>
<circle cx="485.9" cy="382.99" r="1.2" fill="#000"/>
<circle cx="487" cy="385.98" r="1.2" fill="#000"/>
<line x1="495.7" y1="379.57" x2="495.7" y2="383.84" stroke="#000" stroke-width="0.7"/>
<line x1="493.7" y1="379.57" x2="497.7" y2="379.57" stroke="#000" stroke-width="0.75"/>
<circle cx="494.6" cy="377.86" r="1.2" fill="#000"/>
<circle cx="495.7" cy="382.56" r="1.2" fill="#000"/>
<circle cx="496.8" cy="383.84" r="1.2" fill="#000"/>
<line x1="505.7" y1="385.98" x2="505.7" y2="391.95" stroke="#000" stroke-width="0.7"/>
<line x1="503.7" y1="385.98" x2="507.7" y2="385.98" stroke="#000" stroke-width="0.75"/>
<circle cx="504.6" cy="383.84" r="1.2" fill="#000"/>
<circle cx="505.7" cy="389.82" r="1.2" fill="#000"/>
<circle cx="506.8" cy="393.66" r="1.2" fill="#000"/>
<line x1="469.5" y1="374.8" x2="469.5" y2="418.4" stroke="#000" stroke-width="0.9"/>
<line x1="469.1" y1="418" x2="511.2" y2="418" stroke="#000" stroke-width="0.9"/>
<line x1="467.9" y1="418" x2="469.5" y2="418" stroke="#000" stroke-width="0.7"/>
<text x="467.5" y="420" font-size="5.6" text-anchor="end">0</text>
<line x1="467.9" y1="407.32" x2="469.5" y2="407.32" stroke="#000" stroke-width="0.7"/>
<text x="467.5" y="409.32" font-size="5.6" text-anchor="end">25</text>
<line x1="467.9" y1="396.65" x2="469.5" y2="396.65" stroke="#000" stroke-width="0.7"/>
<text x="467.5" y="398.65" font-size="5.6" text-anchor="end">50</text>
<line x1="467.9" y1="385.98" x2="469.5" y2="385.98" stroke="#000" stroke-width="0.7"/>
<text x="467.5" y="387.98" font-size="5.6" text-anchor="end">75</text>
<line x1="467.9" y1="375.3" x2="469.5" y2="375.3" stroke="#000" stroke-width="0.7"/>
<text x="467.5" y="377.3" font-size="5.6" text-anchor="end">100</text>
<line x1="468.6" y1="412.66" x2="469.5" y2="412.66" stroke="#000" stroke-width="0.5"/>
<line x1="468.6" y1="401.99" x2="469.5" y2="401.99" stroke="#000" stroke-width="0.5"/>
<line x1="468.6" y1="391.31" x2="469.5" y2="391.31" stroke="#000" stroke-width="0.5"/>
<line x1="468.6" y1="380.64" x2="469.5" y2="380.64" stroke="#000" stroke-width="0.5"/>
<line x1="476.4" y1="418" x2="476.4" y2="419.6" stroke="#000" stroke-width="0.7"/>
<line x1="485.9" y1="418" x2="485.9" y2="419.6" stroke="#000" stroke-width="0.7"/>
<line x1="495.7" y1="418" x2="495.7" y2="419.6" stroke="#000" stroke-width="0.7"/>
<line x1="505.7" y1="418" x2="505.7" y2="419.6" stroke="#000" stroke-width="0.7"/>
<text x="456.3" y="395.45" font-size="5.7" text-anchor="middle" transform="rotate(-90 456.3 395.45)">Colony area (%)</text>
<text x="478.2" y="423.4" font-size="6.1" text-anchor="end" transform="rotate(-45 478.2 423.4)">DMSO</text>
<text x="487.7" y="423.4" font-size="6.1" text-anchor="end" transform="rotate(-45 487.7 423.4)">AZD4547</text>
<text x="497.5" y="423.4" font-size="6.1" text-anchor="end" transform="rotate(-45 497.5 423.4)">GSK126</text>
<text x="507.5" y="423.4" font-size="6.1" text-anchor="end" transform="rotate(-45 507.5 423.4)">Combination</text>
<line x1="478.4" y1="355.9" x2="506.7" y2="355.9" stroke="#555" stroke-width="1"/>
<text x="492.55" y="354.2" font-size="6.2" text-anchor="middle">ns</text>
<line x1="487.3" y1="364.8" x2="506.7" y2="364.8" stroke="#555" stroke-width="1"/>
<text x="497" y="363.1" font-size="6.2" text-anchor="middle">ns</text>
<line x1="495.7" y1="373.4" x2="505.7" y2="373.4" stroke="#555" stroke-width="1"/>
<text x="500.7" y="371.7" font-size="6.2" text-anchor="middle">ns</text>
<text x="41.2" y="472.2" font-size="9" fill="#1a9a48" color="#1a9a48">#7 - BNC</text>
<text x="73.8" y="479.2" font-size="7.3">Tazemetostat</text>
<text x="55" y="497.6" font-size="7.3" text-anchor="end">DMSO</text>
<text x="55" y="522.2" font-size="7.3" text-anchor="end">AZD4547</text>
<circle cx="70.7" cy="494.3" r="11.1" fill="#5a5a5a"/>
<circle cx="70.7" cy="494.3" r="11.1" fill="#000" filter="url(#grain)"/>
<circle cx="70.7" cy="494.3" r="10.65" fill="none" stroke="#2a2a2a" stroke-width="0.9" opacity="0.45"/>
<circle cx="96.5" cy="494.3" r="11.1" fill="#6c6c6c"/>
<circle cx="96.5" cy="494.3" r="11.1" fill="#000" filter="url(#grain)"/>
<circle cx="96.5" cy="494.3" r="10.65" fill="none" stroke="#2a2a2a" stroke-width="0.9" opacity="0.45"/>
<circle cx="70.7" cy="520.5" r="11.1" fill="#5e5e5e"/>
<circle cx="70.7" cy="520.5" r="11.1" fill="#000" filter="url(#grain)"/>
<circle cx="70.7" cy="520.5" r="10.65" fill="none" stroke="#2a2a2a" stroke-width="0.9" opacity="0.45"/>
<circle cx="96.5" cy="520.5" r="11.1" fill="#7a7a7a"/>
<circle cx="96.5" cy="520.5" r="11.1" fill="#000" filter="url(#grain)"/>
<circle cx="96.5" cy="520.5" r="8.9" fill="#000" filter="url(#mottle)"/>
<circle cx="96.5" cy="520.5" r="10.65" fill="none" stroke="#2a2a2a" stroke-width="0.9" opacity="0.45"/>
<rect x="137.2" y="483.99" width="6.6" height="41.71" fill="#767676" stroke="#111" stroke-width="0.9"/>
<rect x="147.1" y="483.99" width="6.6" height="41.71" fill="#dadada" stroke="#111" stroke-width="0.9"/>
<rect x="157.2" y="485.28" width="6.6" height="40.42" fill="#c6c6c6" stroke="#111" stroke-width="0.9"/>
<rect x="167.2" y="493.45" width="6.6" height="32.25" fill="#f4f4f4" stroke="#111" stroke-width="0.9"/>
<line x1="140.5" y1="483.13" x2="140.5" y2="484.85" stroke="#000" stroke-width="0.7"/>
<line x1="138.5" y1="483.13" x2="142.5" y2="483.13" stroke="#000" stroke-width="0.75"/>
<circle cx="139.4" cy="483.13" r="1.2" fill="#000"/>
<circle cx="140.5" cy="483.56" r="1.2" fill="#000"/>
<circle cx="141.6" cy="485.71" r="1.2" fill="#000"/>
<line x1="150.4" y1="483.65" x2="150.4" y2="484.33" stroke="#000" stroke-width="0.7"/>
<line x1="148.4" y1="483.65" x2="152.4" y2="483.65" stroke="#000" stroke-width="0.75"/>
<circle cx="149.3" cy="483.56" r="1.2" fill="#000"/>
<circle cx="150.4" cy="483.99" r="1.2" fill="#000"/>
<circle cx="151.5" cy="483.99" r="1.2" fill="#000"/>
<line x1="160.5" y1="483.56" x2="160.5" y2="487" stroke="#000" stroke-width="0.7"/>
<line x1="158.5" y1="483.56" x2="162.5" y2="483.56" stroke="#000" stroke-width="0.75"/>
<circle cx="159.4" cy="483.13" r="1.2" fill="#000"/>
<circle cx="160.5" cy="485.28" r="1.2" fill="#000"/>
<circle cx="161.6" cy="487.43" r="1.2" fill="#000"/>
<line x1="170.5" y1="483.99" x2="170.5" y2="502.91" stroke="#000" stroke-width="0.7"/>
<line x1="168.5" y1="483.99" x2="172.5" y2="483.99" stroke="#000" stroke-width="0.75"/>
<circle cx="169.4" cy="483.56" r="1.2" fill="#000"/>
<circle cx="170.5" cy="483.99" r="1.2" fill="#000"/>
<circle cx="171.6" cy="511.51" r="1.2" fill="#000"/>
<line x1="134.3" y1="482.2" x2="134.3" y2="526.1" stroke="#000" stroke-width="0.9"/>
<line x1="133.9" y1="525.7" x2="176" y2="525.7" stroke="#000" stroke-width="0.9"/>
<line x1="132.7" y1="525.7" x2="134.3" y2="525.7" stroke="#000" stroke-width="0.7"/>
<text x="132.3" y="527.7" font-size="5.6" text-anchor="end">0</text>
<line x1="132.7" y1="514.95" x2="134.3" y2="514.95" stroke="#000" stroke-width="0.7"/>
<text x="132.3" y="516.95" font-size="5.6" text-anchor="end">25</text>
<line x1="132.7" y1="504.2" x2="134.3" y2="504.2" stroke="#000" stroke-width="0.7"/>
<text x="132.3" y="506.2" font-size="5.6" text-anchor="end">50</text>
<line x1="132.7" y1="493.45" x2="134.3" y2="493.45" stroke="#000" stroke-width="0.7"/>
<text x="132.3" y="495.45" font-size="5.6" text-anchor="end">75</text>
<line x1="132.7" y1="482.7" x2="134.3" y2="482.7" stroke="#000" stroke-width="0.7"/>
<text x="132.3" y="484.7" font-size="5.6" text-anchor="end">100</text>
<line x1="133.4" y1="520.33" x2="134.3" y2="520.33" stroke="#000" stroke-width="0.5"/>
<line x1="133.4" y1="509.58" x2="134.3" y2="509.58" stroke="#000" stroke-width="0.5"/>
<line x1="133.4" y1="498.82" x2="134.3" y2="498.82" stroke="#000" stroke-width="0.5"/>
<line x1="133.4" y1="488.07" x2="134.3" y2="488.07" stroke="#000" stroke-width="0.5"/>
<line x1="140.5" y1="525.7" x2="140.5" y2="527.3" stroke="#000" stroke-width="0.7"/>
<line x1="150.4" y1="525.7" x2="150.4" y2="527.3" stroke="#000" stroke-width="0.7"/>
<line x1="160.5" y1="525.7" x2="160.5" y2="527.3" stroke="#000" stroke-width="0.7"/>
<line x1="170.5" y1="525.7" x2="170.5" y2="527.3" stroke="#000" stroke-width="0.7"/>
<text x="121.1" y="503" font-size="5.7" text-anchor="middle" transform="rotate(-90 121.1 503)">Colony area (%)</text>
<text x="142.3" y="531.1" font-size="6.1" text-anchor="end" transform="rotate(-45 142.3 531.1)">DMSO</text>
<text x="152.2" y="531.1" font-size="6.1" text-anchor="end" transform="rotate(-45 152.2 531.1)">AZD4547</text>
<text x="162.3" y="531.1" font-size="6.1" text-anchor="end" transform="rotate(-45 162.3 531.1)">Tazemetostat</text>
<text x="172.3" y="531.1" font-size="6.1" text-anchor="end" transform="rotate(-45 172.3 531.1)">Combination</text>
<line x1="142.5" y1="460.9" x2="171.2" y2="460.9" stroke="#555" stroke-width="1"/>
<text x="156.85" y="459.2" font-size="6.2" text-anchor="middle">ns</text>
<line x1="152.1" y1="469.8" x2="171.2" y2="469.8" stroke="#555" stroke-width="1"/>
<text x="161.65" y="468.1" font-size="6.2" text-anchor="middle">ns</text>
<line x1="160.7" y1="478.4" x2="170.7" y2="478.4" stroke="#555" stroke-width="1"/>
<text x="165.7" y="476.7" font-size="6.2" text-anchor="middle">ns</text>
<text x="36.9" y="571.2" font-size="9" fill="#e0141e" color="#e0141e">#8 - NC</text>
<text x="73.4" y="579.2" font-size="7.3">Tazemetostat</text>
<text x="55.4" y="596.8" font-size="7.3" text-anchor="end">DMSO</text>
<text x="55.4" y="620.4" font-size="7.3" text-anchor="end">AZD4547</text>
<circle cx="71.8" cy="594" r="11.1" fill="#4a4a4a"/>
<circle cx="71.8" cy="594" r="11.1" fill="#000" filter="url(#grain)"/>
<ellipse cx="69.33" cy="594.81" rx="0.44" ry="0.68" fill="#e8e8e8" opacity="0.9"/>
<ellipse cx="73.08" cy="599.06" rx="0.41" ry="0.53" fill="#e8e8e8" opacity="0.9"/>
<ellipse cx="73.12" cy="593.6" rx="0.72" ry="0.53" fill="#e8e8e8" opacity="0.9"/>
<ellipse cx="76.49" cy="589.96" rx="0.45" ry="0.66" fill="#e8e8e8" opacity="0.9"/>
<ellipse cx="71.5" cy="594.03" rx="0.35" ry="0.52" fill="#e8e8e8" opacity="0.9"/>
<ellipse cx="69.04" cy="594.88" rx="0.41" ry="0.47" fill="#e8e8e8" opacity="0.9"/>
<ellipse cx="68.87" cy="600.65" rx="0.35" ry="0.61" fill="#e8e8e8" opacity="0.9"/>
<ellipse cx="72.47" cy="592.93" rx="0.77" ry="0.6" fill="#e8e8e8" opacity="0.9"/>
<ellipse cx="74.07" cy="592.38" rx="0.52" ry="0.49" fill="#e8e8e8" opacity="0.9"/>
<ellipse cx="77.08" cy="593.96" rx="0.51" ry="0.5" fill="#e8e8e8" opacity="0.9"/>
<ellipse cx="71.71" cy="594.55" rx="0.4" ry="0.64" fill="#e8e8e8" opacity="0.9"/>
<ellipse cx="70.02" cy="601.81" rx="0.46" ry="0.44" fill="#e8e8e8" opacity="0.9"/>
<ellipse cx="69.9" cy="593.87" rx="0.52" ry="0.68" fill="#e8e8e8" opacity="0.9"/>
<ellipse cx="77.06" cy="589.32" rx="0.63" ry="0.67" fill="#e8e8e8" opacity="0.9"/>
<ellipse cx="76.42" cy="592.2" rx="0.67" ry="0.37" fill="#e8e8e8" opacity="0.9"/>
<ellipse cx="71.34" cy="589.88" rx="0.69" ry="0.58" fill="#e8e8e8" opacity="0.9"/>
<ellipse cx="71.67" cy="594.55" rx="0.77" ry="0.39" fill="#e8e8e8" opacity="0.9"/>
<ellipse cx="68.6" cy="594.57" rx="0.48" ry="0.61" fill="#e8e8e8" opacity="0.9"/>
<ellipse cx="74.3" cy="593.62" rx="0.65" ry="0.46" fill="#e8e8e8" opacity="0.9"/>
<ellipse cx="68.36" cy="592.7" rx="0.43" ry="0.41" fill="#e8e8e8" opacity="0.9"/>
<ellipse cx="73.83" cy="601.51" rx="0.57" ry="0.43" fill="#e8e8e8" opacity="0.9"/>
<ellipse cx="78.85" cy="589.29" rx="0.55" ry="0.4" fill="#e8e8e8" opacity="0.9"/>
<ellipse cx="72.15" cy="594.92" rx="0.5" ry="0.38" fill="#e8e8e8" opacity="0.9"/>
<ellipse cx="71.97" cy="596.51" rx="0.61" ry="0.66" fill="#e8e8e8" opacity="0.9"/>
<ellipse cx="71.79" cy="590.17" rx="0.54" ry="0.53" fill="#e8e8e8" opacity="0.9"/>
<ellipse cx="69.51" cy="596.24" rx="0.38" ry="0.45" fill="#e8e8e8" opacity="0.9"/>
<ellipse cx="73.09" cy="593.73" rx="0.58" ry="0.57" fill="#e8e8e8" opacity="0.9"/>
<ellipse cx="73.19" cy="592.38" rx="0.47" ry="0.44" fill="#e8e8e8" opacity="0.9"/>
<ellipse cx="68.48" cy="596.42" rx="0.78" ry="0.65" fill="#e8e8e8" opacity="0.9"/>
<ellipse cx="71.99" cy="593.81" rx="0.36" ry="0.6" fill="#e8e8e8" opacity="0.9"/>
<circle cx="71.8" cy="594" r="10.65" fill="none" stroke="#2a2a2a" stroke-width="0.9" opacity="0.45"/>
<circle cx="97.2" cy="594" r="11.1" fill="#555555"/>
<circle cx="97.2" cy="594" r="11.1" fill="#000" filter="url(#grain)"/>
<ellipse cx="100.64" cy="591.36" rx="0.61" ry="0.35" fill="#e8e8e8" opacity="0.9"/>
<ellipse cx="91.04" cy="599" rx="0.72" ry="0.65" fill="#e8e8e8" opacity="0.9"/>
<ellipse cx="99.59" cy="593.58" rx="0.4" ry="0.4" fill="#e8e8e8" opacity="0.9"/>
<ellipse cx="91.24" cy="593.16" rx="0.77" ry="0.6" fill="#e8e8e8" opacity="0.9"/>
<ellipse cx="93.19" cy="588.66" rx="0.56" ry="0.54" fill="#e8e8e8" opacity="0.9"/>
<ellipse cx="103.81" cy="595.68" rx="0.45" ry="0.67" fill="#e8e8e8" opacity="0.9"/>
<ellipse cx="95.42" cy="591.7" rx="0.41" ry="0.44" fill="#e8e8e8" opacity="0.9"/>
<ellipse cx="93.17" cy="589.35" rx="0.4" ry="0.37" fill="#e8e8e8" opacity="0.9"/>
<ellipse cx="92.03" cy="593.2" rx="0.52" ry="0.43" fill="#e8e8e8" opacity="0.9"/>
<ellipse cx="97.09" cy="593.92" rx="0.49" ry="0.51" fill="#e8e8e8" opacity="0.9"/>
<ellipse cx="102.74" cy="592.54" rx="0.75" ry="0.52" fill="#e8e8e8" opacity="0.9"/>
<ellipse cx="97.43" cy="596.4" rx="0.78" ry="0.6" fill="#e8e8e8" opacity="0.9"/>
<ellipse cx="97.1" cy="594.25" rx="0.57" ry="0.59" fill="#e8e8e8" opacity="0.9"/>
<ellipse cx="95.01" cy="595.21" rx="0.65" ry="0.67" fill="#e8e8e8" opacity="0.9"/>
<ellipse cx="97.26" cy="594.4" rx="0.5" ry="0.5" fill="#e8e8e8" opacity="0.9"/>
<ellipse cx="96.39" cy="592.2" rx="0.71" ry="0.61" fill="#e8e8e8" opacity="0.9"/>
<ellipse cx="95.16" cy="593.94" rx="0.79" ry="0.46" fill="#e8e8e8" opacity="0.9"/>
<ellipse cx="98.17" cy="591.94" rx="0.45" ry="0.62" fill="#e8e8e8" opacity="0.9"/>
<ellipse cx="94.93" cy="601.81" rx="0.57" ry="0.42" fill="#e8e8e8" opacity="0.9"/>
<ellipse cx="97.85" cy="597.81" rx="0.65" ry="0.68" fill="#e8e8e8" opacity="0.9"/>
<ellipse cx="99.42" cy="596.92" rx="0.45" ry="0.69" fill="#e8e8e8" opacity="0.9"/>
<ellipse cx="97.57" cy="594.46" rx="0.38" ry="0.49" fill="#e8e8e8" opacity="0.9"/>
<ellipse cx="103.3" cy="589.46" rx="0.68" ry="0.7" fill="#e8e8e8" opacity="0.9"/>
<ellipse cx="100.04" cy="592.7" rx="0.43" ry="0.68" fill="#e8e8e8" opacity="0.9"/>
<ellipse cx="97.19" cy="593.62" rx="0.65" ry="0.48" fill="#e8e8e8" opacity="0.9"/>
<ellipse cx="94.99" cy="596.24" rx="0.43" ry="0.35" fill="#e8e8e8" opacity="0.9"/>
<ellipse cx="96.58" cy="597.26" rx="0.78" ry="0.39" fill="#e8e8e8" opacity="0.9"/>
<ellipse cx="99.21" cy="593.54" rx="0.51" ry="0.64" fill="#e8e8e8" opacity="0.9"/>
<ellipse cx="98.95" cy="590.4" rx="0.37" ry="0.52" fill="#e8e8e8" opacity="0.9"/>
<ellipse cx="91.71" cy="599.65" rx="0.44" ry="0.48" fill="#e8e8e8" opacity="0.9"/>
<circle cx="97.2" cy="594" r="10.65" fill="none" stroke="#2a2a2a" stroke-width="0.9" opacity="0.45"/>
<circle cx="71.8" cy="618.8" r="11.1" fill="#4a4a4a"/>
<circle cx="71.8" cy="618.8" r="11.1" fill="#000" filter="url(#grain)"/>
<ellipse cx="72.09" cy="618.58" rx="0.53" ry="0.63" fill="#e8e8e8" opacity="0.9"/>
<ellipse cx="71.85" cy="618.33" rx="0.37" ry="0.37" fill="#e8e8e8" opacity="0.9"/>
<ellipse cx="73.99" cy="617.6" rx="0.69" ry="0.66" fill="#e8e8e8" opacity="0.9"/>
<ellipse cx="70.4" cy="621.03" rx="0.78" ry="0.57" fill="#e8e8e8" opacity="0.9"/>
<ellipse cx="71.32" cy="625.08" rx="0.49" ry="0.45" fill="#e8e8e8" opacity="0.9"/>
<ellipse cx="78.4" cy="618.96" rx="0.76" ry="0.57" fill="#e8e8e8" opacity="0.9"/>
<ellipse cx="72.08" cy="618.7" rx="0.46" ry="0.52" fill="#e8e8e8" opacity="0.9"/>
<ellipse cx="79.65" cy="616.61" rx="0.52" ry="0.44" fill="#e8e8e8" opacity="0.9"/>
<ellipse cx="67.73" cy="620.72" rx="0.77" ry="0.41" fill="#e8e8e8" opacity="0.9"/>
<ellipse cx="73.9" cy="612.68" rx="0.72" ry="0.62" fill="#e8e8e8" opacity="0.9"/>
<ellipse cx="69.37" cy="616.86" rx="0.49" ry="0.48" fill="#e8e8e8" opacity="0.9"/>
<ellipse cx="71.97" cy="617.95" rx="0.44" ry="0.61" fill="#e8e8e8" opacity="0.9"/>
<ellipse cx="71.81" cy="619.52" rx="0.37" ry="0.54" fill="#e8e8e8" opacity="0.9"/>
<ellipse cx="67.97" cy="626.22" rx="0.75" ry="0.7" fill="#e8e8e8" opacity="0.9"/>
<ellipse cx="71.71" cy="619.71" rx="0.39" ry="0.52" fill="#e8e8e8" opacity="0.9"/>
<ellipse cx="70.77" cy="614.81" rx="0.46" ry="0.5" fill="#e8e8e8" opacity="0.9"/>
<ellipse cx="67.46" cy="614.71" rx="0.69" ry="0.65" fill="#e8e8e8" opacity="0.9"/>
<ellipse cx="71.15" cy="617.71" rx="0.73" ry="0.45" fill="#e8e8e8" opacity="0.9"/>
<ellipse cx="68.61" cy="617.37" rx="0.68" ry="0.42" fill="#e8e8e8" opacity="0.9"/>
<ellipse cx="71.84" cy="621.2" rx="0.42" ry="0.66" fill="#e8e8e8" opacity="0.9"/>
<ellipse cx="69.07" cy="617.33" rx="0.53" ry="0.7" fill="#e8e8e8" opacity="0.9"/>
<ellipse cx="69.53" cy="618.7" rx="0.71" ry="0.58" fill="#e8e8e8" opacity="0.9"/>
<ellipse cx="72.89" cy="618.74" rx="0.56" ry="0.64" fill="#e8e8e8" opacity="0.9"/>
<ellipse cx="76.03" cy="612.19" rx="0.37" ry="0.45" fill="#e8e8e8" opacity="0.9"/>
<ellipse cx="73.19" cy="620.1" rx="0.79" ry="0.55" fill="#e8e8e8" opacity="0.9"/>
<ellipse cx="74.96" cy="617.32" rx="0.74" ry="0.51" fill="#e8e8e8" opacity="0.9"/>
<ellipse cx="71.38" cy="625.57" rx="0.78" ry="0.39" fill="#e8e8e8" opacity="0.9"/>
<ellipse cx="67.25" cy="615.66" rx="0.45" ry="0.48" fill="#e8e8e8" opacity="0.9"/>
<ellipse cx="73.08" cy="620.38" rx="0.46" ry="0.56" fill="#e8e8e8" opacity="0.9"/>
<ellipse cx="70.63" cy="617.15" rx="0.36" ry="0.46" fill="#e8e8e8" opacity="0.9"/>
<circle cx="71.8" cy="618.8" r="10.65" fill="none" stroke="#2a2a2a" stroke-width="0.9" opacity="0.45"/>
<circle cx="97.2" cy="618.8" r="11.1" fill="#4f4f4f"/>
<circle cx="97.2" cy="618.8" r="11.1" fill="#000" filter="url(#grain)"/>
<ellipse cx="96.39" cy="617.12" rx="0.49" ry="0.42" fill="#e8e8e8" opacity="0.9"/>
<ellipse cx="98.59" cy="614.05" rx="0.38" ry="0.39" fill="#e8e8e8" opacity="0.9"/>
<ellipse cx="93.27" cy="621.84" rx="0.64" ry="0.38" fill="#e8e8e8" opacity="0.9"/>
<ellipse cx="100.36" cy="624.05" rx="0.53" ry="0.45" fill="#e8e8e8" opacity="0.9"/>
<ellipse cx="94.32" cy="626.41" rx="0.49" ry="0.55" fill="#e8e8e8" opacity="0.9"/>
<ellipse cx="94.79" cy="621.82" rx="0.74" ry="0.7" fill="#e8e8e8" opacity="0.9"/>
<ellipse cx="95.91" cy="620.29" rx="0.68" ry="0.42" fill="#e8e8e8" opacity="0.9"/>
<ellipse cx="104.94" cy="619.09" rx="0.54" ry="0.64" fill="#e8e8e8" opacity="0.9"/>
<ellipse cx="90.88" cy="623.02" rx="0.56" ry="0.41" fill="#e8e8e8" opacity="0.9"/>
<ellipse cx="102.15" cy="619.26" rx="0.64" ry="0.67" fill="#e8e8e8" opacity="0.9"/>
<ellipse cx="101.9" cy="621.74" rx="0.52" ry="0.53" fill="#e8e8e8" opacity="0.9"/>
<ellipse cx="98.86" cy="620.97" rx="0.58" ry="0.67" fill="#e8e8e8" opacity="0.9"/>
<ellipse cx="100.67" cy="621.63" rx="0.71" ry="0.69" fill="#e8e8e8" opacity="0.9"/>
<ellipse cx="97.63" cy="620.05" rx="0.77" ry="0.69" fill="#e8e8e8" opacity="0.9"/>
<ellipse cx="96.6" cy="618.87" rx="0.77" ry="0.49" fill="#e8e8e8" opacity="0.9"/>
<ellipse cx="101.76" cy="615.67" rx="0.72" ry="0.41" fill="#e8e8e8" opacity="0.9"/>
<ellipse cx="97.69" cy="616.66" rx="0.53" ry="0.65" fill="#e8e8e8" opacity="0.9"/>
<ellipse cx="98.08" cy="617.18" rx="0.45" ry="0.49" fill="#e8e8e8" opacity="0.9"/>
<ellipse cx="93.63" cy="618.4" rx="0.41" ry="0.44" fill="#e8e8e8" opacity="0.9"/>
<ellipse cx="95.99" cy="611.19" rx="0.37" ry="0.55" fill="#e8e8e8" opacity="0.9"/>
<ellipse cx="97.22" cy="618.35" rx="0.73" ry="0.39" fill="#e8e8e8" opacity="0.9"/>
<ellipse cx="93.18" cy="615.89" rx="0.63" ry="0.46" fill="#e8e8e8" opacity="0.9"/>
<ellipse cx="92.62" cy="621.32" rx="0.54" ry="0.58" fill="#e8e8e8" opacity="0.9"/>
<ellipse cx="93.38" cy="620.13" rx="0.36" ry="0.57" fill="#e8e8e8" opacity="0.9"/>
<ellipse cx="94.89" cy="618.95" rx="0.69" ry="0.62" fill="#e8e8e8" opacity="0.9"/>
<ellipse cx="95.45" cy="619.27" rx="0.56" ry="0.39" fill="#e8e8e8" opacity="0.9"/>
<ellipse cx="99.95" cy="621.68" rx="0.39" ry="0.5" fill="#e8e8e8" opacity="0.9"/>
<ellipse cx="96.72" cy="618.77" rx="0.64" ry="0.38" fill="#e8e8e8" opacity="0.9"/>
<ellipse cx="96.5" cy="612.06" rx="0.58" ry="0.37" fill="#e8e8e8" opacity="0.9"/>
<ellipse cx="93.66" cy="618.71" rx="0.78" ry="0.4" fill="#e8e8e8" opacity="0.9"/>
<circle cx="97.2" cy="618.8" r="10.65" fill="none" stroke="#2a2a2a" stroke-width="0.9" opacity="0.45"/>
<rect x="133.8" y="588.81" width="6.6" height="38.19" fill="#767676" stroke="#111" stroke-width="0.9"/>
<rect x="144.3" y="589.68" width="6.6" height="37.32" fill="#dadada" stroke="#111" stroke-width="0.9"/>
<rect x="154.4" y="589.24" width="6.6" height="37.76" fill="#c6c6c6" stroke="#111" stroke-width="0.9"/>
<rect x="164.4" y="589.24" width="6.6" height="37.76" fill="#f4f4f4" stroke="#111" stroke-width="0.9"/>
<line x1="137.1" y1="588.16" x2="137.1" y2="589.46" stroke="#000" stroke-width="0.7"/>
<line x1="135.1" y1="588.16" x2="139.1" y2="588.16" stroke="#000" stroke-width="0.75"/>
<circle cx="136" cy="587.07" r="1.2" fill="#000"/>
<circle cx="137.1" cy="588.81" r="1.2" fill="#000"/>
<circle cx="138.2" cy="589.68" r="1.2" fill="#000"/>
<line x1="147.6" y1="588.81" x2="147.6" y2="590.54" stroke="#000" stroke-width="0.7"/>
<line x1="145.6" y1="588.81" x2="149.6" y2="588.81" stroke="#000" stroke-width="0.75"/>
<circle cx="146.5" cy="587.51" r="1.2" fill="#000"/>
<circle cx="147.6" cy="589.68" r="1.2" fill="#000"/>
<circle cx="148.7" cy="590.54" r="1.2" fill="#000"/>
<line x1="157.7" y1="588.37" x2="157.7" y2="590.11" stroke="#000" stroke-width="0.7"/>
<line x1="155.7" y1="588.37" x2="159.7" y2="588.37" stroke="#000" stroke-width="0.75"/>
<circle cx="156.6" cy="586.64" r="1.2" fill="#000"/>
<circle cx="157.7" cy="589.24" r="1.2" fill="#000"/>
<circle cx="158.8" cy="590.11" r="1.2" fill="#000"/>
<line x1="167.7" y1="588.37" x2="167.7" y2="590.11" stroke="#000" stroke-width="0.7"/>
<line x1="165.7" y1="588.37" x2="169.7" y2="588.37" stroke="#000" stroke-width="0.75"/>
<circle cx="166.6" cy="586.64" r="1.2" fill="#000"/>
<circle cx="167.7" cy="589.24" r="1.2" fill="#000"/>
<circle cx="168.8" cy="590.54" r="1.2" fill="#000"/>
<line x1="130.6" y1="583.1" x2="130.6" y2="627.4" stroke="#000" stroke-width="0.9"/>
<line x1="130.2" y1="627" x2="173.2" y2="627" stroke="#000" stroke-width="0.9"/>
<line x1="129" y1="627" x2="130.6" y2="627" stroke="#000" stroke-width="0.7"/>
<text x="128.6" y="629" font-size="5.6" text-anchor="end">0</text>
<line x1="129" y1="616.15" x2="130.6" y2="616.15" stroke="#000" stroke-width="0.7"/>
<text x="128.6" y="618.15" font-size="5.6" text-anchor="end">25</text>
<line x1="129" y1="605.3" x2="130.6" y2="605.3" stroke="#000" stroke-width="0.7"/>
<text x="128.6" y="607.3" font-size="5.6" text-anchor="end">50</text>
<line x1="129" y1="594.45" x2="130.6" y2="594.45" stroke="#000" stroke-width="0.7"/>
<text x="128.6" y="596.45" font-size="5.6" text-anchor="end">75</text>
<line x1="129" y1="583.6" x2="130.6" y2="583.6" stroke="#000" stroke-width="0.7"/>
<text x="128.6" y="585.6" font-size="5.6" text-anchor="end">100</text>
<line x1="129.7" y1="621.58" x2="130.6" y2="621.58" stroke="#000" stroke-width="0.5"/>
<line x1="129.7" y1="610.73" x2="130.6" y2="610.73" stroke="#000" stroke-width="0.5"/>
<line x1="129.7" y1="599.88" x2="130.6" y2="599.88" stroke="#000" stroke-width="0.5"/>
<line x1="129.7" y1="589.02" x2="130.6" y2="589.02" stroke="#000" stroke-width="0.5"/>
<line x1="137.1" y1="627" x2="137.1" y2="628.6" stroke="#000" stroke-width="0.7"/>
<line x1="147.6" y1="627" x2="147.6" y2="628.6" stroke="#000" stroke-width="0.7"/>
<line x1="157.7" y1="627" x2="157.7" y2="628.6" stroke="#000" stroke-width="0.7"/>
<line x1="167.7" y1="627" x2="167.7" y2="628.6" stroke="#000" stroke-width="0.7"/>
<text x="117.4" y="602.4" font-size="5.7" text-anchor="middle" transform="rotate(-90 117.4 602.4)">Colony area (%)</text>
<text x="138.9" y="632.4" font-size="6.1" text-anchor="end" transform="rotate(-45 138.9 632.4)">DMSO</text>
<text x="149.4" y="632.4" font-size="6.1" text-anchor="end" transform="rotate(-45 149.4 632.4)">AZD4547</text>
<text x="159.5" y="632.4" font-size="6.1" text-anchor="end" transform="rotate(-45 159.5 632.4)">Tazemetostat</text>
<text x="169.5" y="632.4" font-size="6.1" text-anchor="end" transform="rotate(-45 169.5 632.4)">Combination</text>
<line x1="140.5" y1="562.5" x2="168.4" y2="562.5" stroke="#555" stroke-width="1"/>
<text x="154.45" y="560.8" font-size="6.2" text-anchor="middle">ns</text>
<line x1="149.3" y1="571.1" x2="168.4" y2="571.1" stroke="#555" stroke-width="1"/>
<text x="158.85" y="569.4" font-size="6.2" text-anchor="middle">ns</text>
<line x1="158.2" y1="579.6" x2="168.4" y2="579.6" stroke="#555" stroke-width="1"/>
<text x="163.3" y="577.9" font-size="6.2" text-anchor="middle">ns</text>
<text x="217.4" y="469.9" font-size="9" fill="#1a9a48" color="#1a9a48">NCI-H2452</text>
<text x="244.7" y="478.8" font-size="7.3">Tazemetostat</text>
<text x="230.7" y="495.9" font-size="7.3" text-anchor="end">DMSO</text>
<text x="230.7" y="520.1" font-size="7.3" text-anchor="end">AZD4547</text>
<circle cx="246.9" cy="493" r="11.1" fill="#b4b4b4"/>
<circle cx="246.9" cy="493" r="11.1" fill="#000" filter="url(#lgrain)"/>
<circle cx="246.9" cy="493" r="9.6" fill="#000" filter="url(#dmottle)" opacity="0.8"/>
<circle cx="246.9" cy="493" r="10.65" fill="none" stroke="#2a2a2a" stroke-width="0.9" opacity="0.25"/>
<circle cx="273.4" cy="493" r="11.1" fill="#dedede"/>
<circle cx="273.4" cy="493" r="11.1" fill="#000" filter="url(#lgrain)"/>
<circle cx="273.4" cy="493" r="9.6" fill="#000" filter="url(#dmottle)" opacity="0.8"/>
<circle cx="273.4" cy="493" r="10.65" fill="none" stroke="#2a2a2a" stroke-width="0.9" opacity="0.08"/>
<circle cx="246.9" cy="518.2" r="11.1" fill="#868686"/>
<circle cx="246.9" cy="518.2" r="11.1" fill="#000" filter="url(#grain)"/>
<circle cx="246.9" cy="518.2" r="9.6" fill="#000" filter="url(#dmottle)" opacity="0.8"/>
<circle cx="246.9" cy="518.2" r="10.65" fill="none" stroke="#2a2a2a" stroke-width="0.9" opacity="0.45"/>
<circle cx="273.4" cy="518.2" r="11.1" fill="#d2d2d2"/>
<circle cx="273.4" cy="518.2" r="11.1" fill="#000" filter="url(#lgrain)"/>
<circle cx="273.4" cy="518.2" r="10.65" fill="none" stroke="#2a2a2a" stroke-width="0.9" opacity="0.08"/>
<rect x="313.2" y="496.31" width="6.5" height="27.09" fill="#767676" stroke="#111" stroke-width="0.9"/>
<rect x="323.3" y="496.31" width="6.5" height="27.09" fill="#dadada" stroke="#111" stroke-width="0.9"/>
<rect x="333.5" y="503.3" width="6.5" height="20.1" fill="#c6c6c6" stroke="#111" stroke-width="0.9"/>
<rect x="343.4" y="518.16" width="6.5" height="5.24" fill="#f4f4f4" stroke="#111" stroke-width="0.9"/>
<line x1="316.45" y1="492.81" x2="316.45" y2="499.8" stroke="#000" stroke-width="0.7"/>
<line x1="314.45" y1="492.81" x2="318.45" y2="492.81" stroke="#000" stroke-width="0.75"/>
<circle cx="315.35" cy="490.19" r="1.2" fill="#000"/>
<circle cx="316.45" cy="497.18" r="1.2" fill="#000"/>
<circle cx="317.55" cy="501.55" r="1.2" fill="#000"/>
<line x1="326.55" y1="492.81" x2="326.55" y2="499.8" stroke="#000" stroke-width="0.7"/>
<line x1="324.55" y1="492.81" x2="328.55" y2="492.81" stroke="#000" stroke-width="0.75"/>
<circle cx="325.45" cy="487.57" r="1.2" fill="#000"/>
<circle cx="326.55" cy="498.05" r="1.2" fill="#000"/>
<circle cx="327.65" cy="501.55" r="1.2" fill="#000"/>
<line x1="336.75" y1="498.93" x2="336.75" y2="507.67" stroke="#000" stroke-width="0.7"/>
<line x1="334.75" y1="498.93" x2="338.75" y2="498.93" stroke="#000" stroke-width="0.75"/>
<circle cx="335.65" cy="494.56" r="1.2" fill="#000"/>
<circle cx="336.75" cy="505.92" r="1.2" fill="#000"/>
<circle cx="337.85" cy="508.54" r="1.2" fill="#000"/>
<line x1="346.65" y1="515.97" x2="346.65" y2="520.34" stroke="#000" stroke-width="0.7"/>
<line x1="344.65" y1="515.97" x2="348.65" y2="515.97" stroke="#000" stroke-width="0.75"/>
<circle cx="345.55" cy="514.22" r="1.2" fill="#000"/>
<circle cx="346.65" cy="519.03" r="1.2" fill="#000"/>
<circle cx="347.75" cy="520.78" r="1.2" fill="#000"/>
<line x1="309.3" y1="479.2" x2="309.3" y2="523.8" stroke="#000" stroke-width="0.9"/>
<line x1="308.9" y1="523.4" x2="352.1" y2="523.4" stroke="#000" stroke-width="0.9"/>
<line x1="307.7" y1="523.4" x2="309.3" y2="523.4" stroke="#000" stroke-width="0.7"/>
<text x="307.3" y="525.4" font-size="5.6" text-anchor="end">0</text>
<line x1="307.7" y1="512.48" x2="309.3" y2="512.48" stroke="#000" stroke-width="0.7"/>
<text x="307.3" y="514.48" font-size="5.6" text-anchor="end">25</text>
<line x1="307.7" y1="501.55" x2="309.3" y2="501.55" stroke="#000" stroke-width="0.7"/>
<text x="307.3" y="503.55" font-size="5.6" text-anchor="end">50</text>
<line x1="307.7" y1="490.62" x2="309.3" y2="490.62" stroke="#000" stroke-width="0.7"/>
<text x="307.3" y="492.62" font-size="5.6" text-anchor="end">75</text>
<line x1="307.7" y1="479.7" x2="309.3" y2="479.7" stroke="#000" stroke-width="0.7"/>
<text x="307.3" y="481.7" font-size="5.6" text-anchor="end">100</text>
<line x1="308.4" y1="517.94" x2="309.3" y2="517.94" stroke="#000" stroke-width="0.5"/>
<line x1="308.4" y1="507.01" x2="309.3" y2="507.01" stroke="#000" stroke-width="0.5"/>
<line x1="308.4" y1="496.09" x2="309.3" y2="496.09" stroke="#000" stroke-width="0.5"/>
<line x1="308.4" y1="485.16" x2="309.3" y2="485.16" stroke="#000" stroke-width="0.5"/>
<line x1="316.45" y1="523.4" x2="316.45" y2="525" stroke="#000" stroke-width="0.7"/>
<line x1="326.55" y1="523.4" x2="326.55" y2="525" stroke="#000" stroke-width="0.7"/>
<line x1="336.75" y1="523.4" x2="336.75" y2="525" stroke="#000" stroke-width="0.7"/>
<line x1="346.65" y1="523.4" x2="346.65" y2="525" stroke="#000" stroke-width="0.7"/>
<text x="296.1" y="500.35" font-size="5.7" text-anchor="middle" transform="rotate(-90 296.1 500.35)">Colony area (%)</text>
<text x="318.25" y="528.8" font-size="6.1" text-anchor="end" transform="rotate(-45 318.25 528.8)">DMSO</text>
<text x="328.35" y="528.8" font-size="6.1" text-anchor="end" transform="rotate(-45 328.35 528.8)">AZD4547</text>
<text x="338.55" y="528.8" font-size="6.1" text-anchor="end" transform="rotate(-45 338.55 528.8)">Tazemetostat</text>
<text x="348.45" y="528.8" font-size="6.1" text-anchor="end" transform="rotate(-45 348.45 528.8)">Combination</text>
<line x1="319.5" y1="462" x2="347.5" y2="462" stroke="#555" stroke-width="1"/>
<text x="333.9" y="462.2" font-size="8.5" text-anchor="middle" font-weight="bold" letter-spacing="0.7">**</text>
<line x1="328.4" y1="470.5" x2="347.5" y2="470.5" stroke="#555" stroke-width="1"/>
<text x="338.35" y="470.7" font-size="8.5" text-anchor="middle" font-weight="bold" letter-spacing="0.7">*</text>
<line x1="337" y1="478.9" x2="346.8" y2="478.9" stroke="#555" stroke-width="1"/>
<text x="342.3" y="479.1" font-size="8.5" text-anchor="middle" font-weight="bold" letter-spacing="0.7">*</text>
<text x="382.7" y="469.9" font-size="9" fill="#1a9a48" color="#1a9a48">NCI-H2731</text>
<text x="409.7" y="478.8" font-size="7.3">Tazemetostat</text>
<text x="396.1" y="496.2" font-size="7.3" text-anchor="end">DMSO</text>
<text x="396.1" y="520.4" font-size="7.3" text-anchor="end">AZD4547</text>
<circle cx="412.8" cy="494.1" r="11.1" fill="#525252"/>
<circle cx="412.8" cy="494.1" r="11.1" fill="#000" filter="url(#grain)"/>
<circle cx="412.8" cy="494.1" r="10.65" fill="none" stroke="#2a2a2a" stroke-width="0.9" opacity="0.45"/>
<circle cx="438.7" cy="494.1" r="11.1" fill="#6a6a6a"/>
<circle cx="438.7" cy="494.1" r="11.1" fill="#000" filter="url(#grain)"/>
<circle cx="438.7" cy="494.1" r="10.65" fill="none" stroke="#2a2a2a" stroke-width="0.9" opacity="0.45"/>
<circle cx="412.8" cy="520.5" r="11.1" fill="#606060"/>
<circle cx="412.8" cy="520.5" r="11.1" fill="#000" filter="url(#grain)"/>
<circle cx="412.8" cy="520.5" r="10.65" fill="none" stroke="#2a2a2a" stroke-width="0.9" opacity="0.45"/>
<circle cx="438.7" cy="520.5" r="11.1" fill="#e2e2e2"/>
<circle cx="438.7" cy="520.5" r="11.1" fill="#000" filter="url(#lgrain)"/>
<circle cx="438.7" cy="520.5" r="10.65" fill="none" stroke="#2a2a2a" stroke-width="0.9" opacity="0.08"/>
<rect x="477.1" y="483.58" width="7" height="43.52" fill="#767676" stroke="#111" stroke-width="0.9"/>
<rect x="488.1" y="484.98" width="7" height="42.12" fill="#dadada" stroke="#111" stroke-width="0.9"/>
<rect x="498.6" y="484.51" width="7" height="42.59" fill="#c6c6c6" stroke="#111" stroke-width="0.9"/>
<rect x="509.5" y="502.76" width="7" height="24.34" fill="#f4f4f4" stroke="#111" stroke-width="0.9"/>
<line x1="480.6" y1="482.64" x2="480.6" y2="484.51" stroke="#000" stroke-width="0.7"/>
<line x1="478.6" y1="482.64" x2="482.6" y2="482.64" stroke="#000" stroke-width="0.75"/>
<circle cx="479.5" cy="482.17" r="1.2" fill="#000"/>
<circle cx="480.6" cy="483.58" r="1.2" fill="#000"/>
<circle cx="481.7" cy="484.51" r="1.2" fill="#000"/>
<line x1="491.6" y1="482.64" x2="491.6" y2="487.32" stroke="#000" stroke-width="0.7"/>
<line x1="489.6" y1="482.64" x2="493.6" y2="482.64" stroke="#000" stroke-width="0.75"/>
<circle cx="490.5" cy="481.7" r="1.2" fill="#000"/>
<circle cx="491.6" cy="484.98" r="1.2" fill="#000"/>
<circle cx="492.7" cy="488.72" r="1.2" fill="#000"/>
<line x1="502.1" y1="483.11" x2="502.1" y2="485.92" stroke="#000" stroke-width="0.7"/>
<line x1="500.1" y1="483.11" x2="504.1" y2="483.11" stroke="#000" stroke-width="0.75"/>
<circle cx="501" cy="482.17" r="1.2" fill="#000"/>
<circle cx="502.1" cy="484.04" r="1.2" fill="#000"/>
<circle cx="503.2" cy="486.38" r="1.2" fill="#000"/>
<line x1="513" y1="495.74" x2="513" y2="509.78" stroke="#000" stroke-width="0.7"/>
<line x1="511" y1="495.74" x2="515" y2="495.74" stroke="#000" stroke-width="0.75"/>
<circle cx="511.9" cy="494.34" r="1.2" fill="#000"/>
<circle cx="513" cy="501.36" r="1.2" fill="#000"/>
<circle cx="514.1" cy="513.06" r="1.2" fill="#000"/>
<line x1="473.6" y1="479.8" x2="473.6" y2="527.5" stroke="#000" stroke-width="0.9"/>
<line x1="473.2" y1="527.1" x2="518.7" y2="527.1" stroke="#000" stroke-width="0.9"/>
<line x1="472" y1="527.1" x2="473.6" y2="527.1" stroke="#000" stroke-width="0.7"/>
<text x="471.6" y="529.1" font-size="5.6" text-anchor="end">0</text>
<line x1="472" y1="515.4" x2="473.6" y2="515.4" stroke="#000" stroke-width="0.7"/>
<text x="471.6" y="517.4" font-size="5.6" text-anchor="end">25</text>
<line x1="472" y1="503.7" x2="473.6" y2="503.7" stroke="#000" stroke-width="0.7"/>
<text x="471.6" y="505.7" font-size="5.6" text-anchor="end">50</text>
<line x1="472" y1="492" x2="473.6" y2="492" stroke="#000" stroke-width="0.7"/>
<text x="471.6" y="494" font-size="5.6" text-anchor="end">75</text>
<line x1="472" y1="480.3" x2="473.6" y2="480.3" stroke="#000" stroke-width="0.7"/>
<text x="471.6" y="482.3" font-size="5.6" text-anchor="end">100</text>
<line x1="472.7" y1="521.25" x2="473.6" y2="521.25" stroke="#000" stroke-width="0.5"/>
<line x1="472.7" y1="509.55" x2="473.6" y2="509.55" stroke="#000" stroke-width="0.5"/>
<line x1="472.7" y1="497.85" x2="473.6" y2="497.85" stroke="#000" stroke-width="0.5"/>
<line x1="472.7" y1="486.15" x2="473.6" y2="486.15" stroke="#000" stroke-width="0.5"/>
<line x1="480.6" y1="527.1" x2="480.6" y2="528.7" stroke="#000" stroke-width="0.7"/>
<line x1="491.6" y1="527.1" x2="491.6" y2="528.7" stroke="#000" stroke-width="0.7"/>
<line x1="502.1" y1="527.1" x2="502.1" y2="528.7" stroke="#000" stroke-width="0.7"/>
<line x1="513" y1="527.1" x2="513" y2="528.7" stroke="#000" stroke-width="0.7"/>
<text x="460.4" y="502.5" font-size="5.7" text-anchor="middle" transform="rotate(-90 460.4 502.5)">Colony area (%)</text>
<text x="482.4" y="532.5" font-size="6.1" text-anchor="end" transform="rotate(-45 482.4 532.5)">DMSO</text>
<text x="493.4" y="532.5" font-size="6.1" text-anchor="end" transform="rotate(-45 493.4 532.5)">AZD4547</text>
<text x="503.9" y="532.5" font-size="6.1" text-anchor="end" transform="rotate(-45 503.9 532.5)">Tazemetostat</text>
<text x="514.8" y="532.5" font-size="6.1" text-anchor="end" transform="rotate(-45 514.8 532.5)">Combination</text>
<line x1="484.6" y1="460.2" x2="512.5" y2="460.2" stroke="#555" stroke-width="1"/>
<text x="498.95" y="460.4" font-size="8.5" text-anchor="middle" font-weight="bold" letter-spacing="0.7">*</text>
<line x1="493.8" y1="469.1" x2="512.5" y2="469.1" stroke="#555" stroke-width="1"/>
<text x="503.55" y="469.3" font-size="8.5" text-anchor="middle" font-weight="bold" letter-spacing="0.7">*</text>
<line x1="502.3" y1="477.3" x2="512.1" y2="477.3" stroke="#555" stroke-width="1"/>
<text x="507.6" y="477.5" font-size="8.5" text-anchor="middle" font-weight="bold" letter-spacing="0.7">*</text>
<text x="213" y="570" font-size="9" fill="#e0141e" color="#e0141e">NCI-H2810</text>
<text x="249.7" y="578.1" font-size="7.3">Tazemetostat</text>
<text x="230.3" y="594.5" font-size="7.3" text-anchor="end">DMSO</text>
<text x="230.3" y="619.4" font-size="7.3" text-anchor="end">AZD4547</text>
<circle cx="249.5" cy="592.1" r="11.1" fill="#727272"/>
<circle cx="249.5" cy="592.1" r="11.1" fill="#000" filter="url(#grain)"/>
<circle cx="249.5" cy="592.1" r="10.65" fill="none" stroke="#2a2a2a" stroke-width="0.9" opacity="0.45"/>
<circle cx="275.4" cy="592.1" r="11.1" fill="#9a9a9a"/>
<circle cx="275.4" cy="592.1" r="11.1" fill="#000" filter="url(#grain)"/>
<circle cx="275.4" cy="592.1" r="10.65" fill="none" stroke="#2a2a2a" stroke-width="0.9" opacity="0.25"/>
<circle cx="249.5" cy="617.1" r="11.1" fill="#999999"/>
<circle cx="249.5" cy="617.1" r="11.1" fill="#000" filter="url(#grain)"/>
<circle cx="249.5" cy="617.1" r="10.65" fill="none" stroke="#2a2a2a" stroke-width="0.9" opacity="0.25"/>
<circle cx="275.4" cy="617.1" r="11.1" fill="#b0b0b0"/>
<circle cx="275.4" cy="617.1" r="11.1" fill="#000" filter="url(#lgrain)"/>
<circle cx="275.4" cy="617.1" r="10.65" fill="none" stroke="#2a2a2a" stroke-width="0.9" opacity="0.25"/>
<rect x="310.1" y="583.88" width="6.6" height="41.51" fill="#767676" stroke="#111" stroke-width="0.9"/>
<rect x="320.1" y="584.76" width="6.6" height="40.64" fill="#dadada" stroke="#111" stroke-width="0.9"/>
<rect x="329.9" y="583.01" width="6.6" height="42.39" fill="#c6c6c6" stroke="#111" stroke-width="0.9"/>
<rect x="340.1" y="583.45" width="6.6" height="41.95" fill="#f4f4f4" stroke="#111" stroke-width="0.9"/>
<line x1="313.4" y1="583.54" x2="313.4" y2="584.23" stroke="#000" stroke-width="0.7"/>
<line x1="311.4" y1="583.54" x2="315.4" y2="583.54" stroke="#000" stroke-width="0.75"/>
<circle cx="312.3" cy="583.45" r="1.2" fill="#000"/>
<circle cx="313.4" cy="583.88" r="1.2" fill="#000"/>
<circle cx="314.5" cy="583.88" r="1.2" fill="#000"/>
<line x1="323.4" y1="584.32" x2="323.4" y2="585.2" stroke="#000" stroke-width="0.7"/>
<line x1="321.4" y1="584.32" x2="325.4" y2="584.32" stroke="#000" stroke-width="0.75"/>
<circle cx="322.3" cy="584.32" r="1.2" fill="#000"/>
<circle cx="323.4" cy="584.76" r="1.2" fill="#000"/>
<circle cx="324.5" cy="584.76" r="1.2" fill="#000"/>
<line x1="333.2" y1="582.57" x2="333.2" y2="583.45" stroke="#000" stroke-width="0.7"/>
<line x1="331.2" y1="582.57" x2="335.2" y2="582.57" stroke="#000" stroke-width="0.75"/>
<circle cx="332.1" cy="582.57" r="1.2" fill="#000"/>
<circle cx="333.2" cy="583.01" r="1.2" fill="#000"/>
<circle cx="334.3" cy="583.45" r="1.2" fill="#000"/>
<line x1="343.4" y1="583.1" x2="343.4" y2="583.8" stroke="#000" stroke-width="0.7"/>
<line x1="341.4" y1="583.1" x2="345.4" y2="583.1" stroke="#000" stroke-width="0.75"/>
<circle cx="342.3" cy="583.01" r="1.2" fill="#000"/>
<circle cx="343.4" cy="583.45" r="1.2" fill="#000"/>
<circle cx="344.5" cy="583.45" r="1.2" fill="#000"/>
<line x1="307" y1="581.2" x2="307" y2="625.8" stroke="#000" stroke-width="0.9"/>
<line x1="306.6" y1="625.4" x2="348.9" y2="625.4" stroke="#000" stroke-width="0.9"/>
<line x1="305.4" y1="625.4" x2="307" y2="625.4" stroke="#000" stroke-width="0.7"/>
<text x="305" y="627.4" font-size="5.6" text-anchor="end">0</text>
<line x1="305.4" y1="614.48" x2="307" y2="614.48" stroke="#000" stroke-width="0.7"/>
<text x="305" y="616.48" font-size="5.6" text-anchor="end">25</text>
<line x1="305.4" y1="603.55" x2="307" y2="603.55" stroke="#000" stroke-width="0.7"/>
<text x="305" y="605.55" font-size="5.6" text-anchor="end">50</text>
<line x1="305.4" y1="592.62" x2="307" y2="592.62" stroke="#000" stroke-width="0.7"/>
<text x="305" y="594.62" font-size="5.6" text-anchor="end">75</text>
<line x1="305.4" y1="581.7" x2="307" y2="581.7" stroke="#000" stroke-width="0.7"/>
<text x="305" y="583.7" font-size="5.6" text-anchor="end">100</text>
<line x1="306.1" y1="619.94" x2="307" y2="619.94" stroke="#000" stroke-width="0.5"/>
<line x1="306.1" y1="609.01" x2="307" y2="609.01" stroke="#000" stroke-width="0.5"/>
<line x1="306.1" y1="598.09" x2="307" y2="598.09" stroke="#000" stroke-width="0.5"/>
<line x1="306.1" y1="587.16" x2="307" y2="587.16" stroke="#000" stroke-width="0.5"/>
<line x1="313.4" y1="625.4" x2="313.4" y2="627" stroke="#000" stroke-width="0.7"/>
<line x1="323.4" y1="625.4" x2="323.4" y2="627" stroke="#000" stroke-width="0.7"/>
<line x1="333.2" y1="625.4" x2="333.2" y2="627" stroke="#000" stroke-width="0.7"/>
<line x1="343.4" y1="625.4" x2="343.4" y2="627" stroke="#000" stroke-width="0.7"/>
<text x="293.8" y="602.35" font-size="5.7" text-anchor="middle" transform="rotate(-90 293.8 602.35)">Colony area (%)</text>
<text x="315.2" y="630.8" font-size="6.1" text-anchor="end" transform="rotate(-45 315.2 630.8)">DMSO</text>
<text x="325.2" y="630.8" font-size="6.1" text-anchor="end" transform="rotate(-45 325.2 630.8)">AZD4547</text>
<text x="335" y="630.8" font-size="6.1" text-anchor="end" transform="rotate(-45 335 630.8)">Tazemetostat</text>
<text x="345.2" y="630.8" font-size="6.1" text-anchor="end" transform="rotate(-45 345.2 630.8)">Combination</text>
<line x1="315.5" y1="560.9" x2="343.4" y2="560.9" stroke="#555" stroke-width="1"/>
<text x="329.45" y="559.2" font-size="6.2" text-anchor="middle">ns</text>
<line x1="324.3" y1="569.5" x2="343.4" y2="569.5" stroke="#555" stroke-width="1"/>
<text x="333.85" y="567.8" font-size="6.2" text-anchor="middle">ns</text>
<line x1="333.2" y1="577.2" x2="343.4" y2="577.2" stroke="#555" stroke-width="1"/>
<text x="338.3" y="575.5" font-size="6.2" text-anchor="middle">ns</text>
<text x="378.2" y="569.3" font-size="9" fill="#e0141e" color="#e0141e">NCI-H2818</text>
<text x="414.2" y="577.6" font-size="7.3">Tazemetostat</text>
<text x="396.2" y="594.5" font-size="7.3" text-anchor="end">DMSO</text>
<text x="396.2" y="619.4" font-size="7.3" text-anchor="end">AZD4547</text>
<circle cx="415.2" cy="591.7" r="11.1" fill="#8e8e8e"/>
<circle cx="415.2" cy="591.7" r="11.1" fill="#000" filter="url(#sgrain)"/>
<circle cx="415.2" cy="591.7" r="10.65" fill="none" stroke="#2a2a2a" stroke-width="0.9" opacity="0.45"/>
<circle cx="440.8" cy="591.7" r="11.1" fill="#c4c4c4"/>
<circle cx="440.8" cy="591.7" r="11.1" fill="#000" filter="url(#sgrain)"/>
<circle cx="440.8" cy="591.7" r="10.65" fill="none" stroke="#2a2a2a" stroke-width="0.9" opacity="0.25"/>
<circle cx="415.2" cy="617.5" r="11.1" fill="#7a7a7a"/>
<circle cx="415.2" cy="617.5" r="11.1" fill="#000" filter="url(#sgrain)"/>
<circle cx="415.2" cy="617.5" r="10.65" fill="none" stroke="#2a2a2a" stroke-width="0.9" opacity="0.45"/>
<circle cx="440.8" cy="617.5" r="11.1" fill="#d4d4d4"/>
<circle cx="440.8" cy="617.5" r="11.1" fill="#000" filter="url(#sgrain)"/>
<circle cx="440.8" cy="617.5" r="10.65" fill="none" stroke="#2a2a2a" stroke-width="0.9" opacity="0.08"/>
<rect x="477.1" y="589.73" width="6.5" height="33.87" fill="#767676" stroke="#111" stroke-width="0.9"/>
<rect x="486.3" y="589.32" width="6.5" height="34.28" fill="#dadada" stroke="#111" stroke-width="0.9"/>
<rect x="495.8" y="593.86" width="6.5" height="29.74" fill="#c6c6c6" stroke="#111" stroke-width="0.9"/>
<rect x="505.4" y="597.17" width="6.5" height="26.43" fill="#f4f4f4" stroke="#111" stroke-width="0.9"/>
<line x1="480.35" y1="586.43" x2="480.35" y2="593.04" stroke="#000" stroke-width="0.7"/>
<line x1="478.35" y1="586.43" x2="482.35" y2="586.43" stroke="#000" stroke-width="0.75"/>
<circle cx="479.25" cy="584.37" r="1.2" fill="#000"/>
<circle cx="480.35" cy="590.56" r="1.2" fill="#000"/>
<circle cx="481.45" cy="594.69" r="1.2" fill="#000"/>
<line x1="489.55" y1="586.02" x2="489.55" y2="592.62" stroke="#000" stroke-width="0.7"/>
<line x1="487.55" y1="586.02" x2="491.55" y2="586.02" stroke="#000" stroke-width="0.75"/>
<circle cx="488.45" cy="584.37" r="1.2" fill="#000"/>
<circle cx="489.55" cy="589.73" r="1.2" fill="#000"/>
<circle cx="490.65" cy="593.86" r="1.2" fill="#000"/>
<line x1="499.05" y1="591.39" x2="499.05" y2="596.34" stroke="#000" stroke-width="0.7"/>
<line x1="497.05" y1="591.39" x2="501.05" y2="591.39" stroke="#000" stroke-width="0.75"/>
<circle cx="497.95" cy="590.56" r="1.2" fill="#000"/>
<circle cx="499.05" cy="593.86" r="1.2" fill="#000"/>
<circle cx="500.15" cy="598.82" r="1.2" fill="#000"/>
<line x1="508.65" y1="592.62" x2="508.65" y2="601.71" stroke="#000" stroke-width="0.7"/>
<line x1="506.65" y1="592.62" x2="510.65" y2="592.62" stroke="#000" stroke-width="0.75"/>
<circle cx="507.55" cy="588.08" r="1.2" fill="#000"/>
<circle cx="508.65" cy="598.82" r="1.2" fill="#000"/>
<circle cx="509.75" cy="602.95" r="1.2" fill="#000"/>
<line x1="473.4" y1="581.8" x2="473.4" y2="624" stroke="#000" stroke-width="0.9"/>
<line x1="473" y1="623.6" x2="514.1" y2="623.6" stroke="#000" stroke-width="0.9"/>
<line x1="471.8" y1="623.6" x2="473.4" y2="623.6" stroke="#000" stroke-width="0.7"/>
<text x="471.4" y="625.6" font-size="5.6" text-anchor="end">0</text>
<line x1="471.8" y1="613.27" x2="473.4" y2="613.27" stroke="#000" stroke-width="0.7"/>
<text x="471.4" y="615.27" font-size="5.6" text-anchor="end">25</text>
<line x1="471.8" y1="602.95" x2="473.4" y2="602.95" stroke="#000" stroke-width="0.7"/>
<text x="471.4" y="604.95" font-size="5.6" text-anchor="end">50</text>
<line x1="471.8" y1="592.62" x2="473.4" y2="592.62" stroke="#000" stroke-width="0.7"/>
<text x="471.4" y="594.62" font-size="5.6" text-anchor="end">75</text>
<line x1="471.8" y1="582.3" x2="473.4" y2="582.3" stroke="#000" stroke-width="0.7"/>
<text x="471.4" y="584.3" font-size="5.6" text-anchor="end">100</text>
<line x1="472.5" y1="618.44" x2="473.4" y2="618.44" stroke="#000" stroke-width="0.5"/>
<line x1="472.5" y1="608.11" x2="473.4" y2="608.11" stroke="#000" stroke-width="0.5"/>
<line x1="472.5" y1="597.79" x2="473.4" y2="597.79" stroke="#000" stroke-width="0.5"/>
<line x1="472.5" y1="587.46" x2="473.4" y2="587.46" stroke="#000" stroke-width="0.5"/>
<line x1="480.35" y1="623.6" x2="480.35" y2="625.2" stroke="#000" stroke-width="0.7"/>
<line x1="489.55" y1="623.6" x2="489.55" y2="625.2" stroke="#000" stroke-width="0.7"/>
<line x1="499.05" y1="623.6" x2="499.05" y2="625.2" stroke="#000" stroke-width="0.7"/>
<line x1="508.65" y1="623.6" x2="508.65" y2="625.2" stroke="#000" stroke-width="0.7"/>
<text x="460.2" y="601.75" font-size="5.7" text-anchor="middle" transform="rotate(-90 460.2 601.75)">Colony area (%)</text>
<text x="482.15" y="629" font-size="6.1" text-anchor="end" transform="rotate(-45 482.15 629)">DMSO</text>
<text x="491.35" y="629" font-size="6.1" text-anchor="end" transform="rotate(-45 491.35 629)">AZD4547</text>
<text x="500.85" y="629" font-size="6.1" text-anchor="end" transform="rotate(-45 500.85 629)">Tazemetostat</text>
<text x="510.45" y="629" font-size="6.1" text-anchor="end" transform="rotate(-45 510.45 629)">Combination</text>
<line x1="480.5" y1="565.2" x2="508.4" y2="565.2" stroke="#555" stroke-width="1"/>
<text x="494.45" y="563.5" font-size="6.2" text-anchor="middle">ns</text>
<line x1="489.3" y1="573.6" x2="508.4" y2="573.6" stroke="#555" stroke-width="1"/>
<text x="498.85" y="571.9" font-size="6.2" text-anchor="middle">ns</text>
<line x1="498.2" y1="582" x2="508.4" y2="582" stroke="#555" stroke-width="1"/>
<text x="503.3" y="580.3" font-size="6.2" text-anchor="middle">ns</text>
</svg></body></html>
